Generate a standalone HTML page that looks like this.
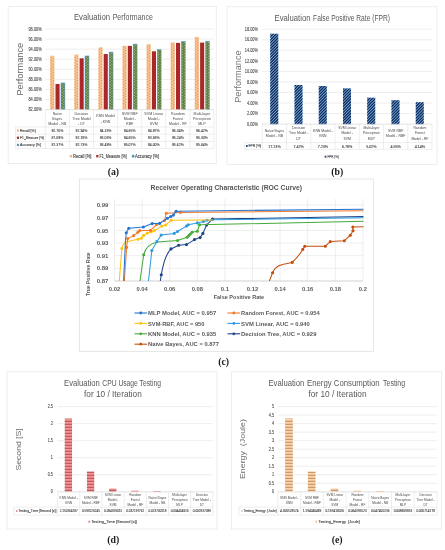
<!DOCTYPE html>
<html lang="en"><head><meta charset="utf-8"><title>Evaluation figures</title>
<style>html,body{margin:0;padding:0;background:#fff}body{width:445px;height:550px;overflow:hidden}svg{display:block;filter:blur(0.3px)}text{white-space:pre}</style>
</head><body>
<svg width="445" height="550" viewBox="0 0 445 550">
<defs>
<pattern id="pd" x="0" y="491.8" width="4" height="3" patternUnits="userSpaceOnUse"><rect width="4" height="3" fill="#f09595"/><rect y="1.0" width="4" height="1.0" fill="#b64c4f"/></pattern>
<pattern id="pe" x="0" y="491.8" width="4" height="3" patternUnits="userSpaceOnUse"><rect width="4" height="3" fill="#f9d3ac"/><rect y="1.0" width="4" height="1.0" fill="#c48a58"/></pattern>
</defs>
<rect x="0.00" y="0.00" width="445.00" height="550.00" fill="#ffffff" stroke="none" stroke-width="0.5" />
<rect x="8.10" y="6.40" width="208.10" height="157.30" fill="#ffffff" stroke="#e2e2e2" stroke-width="0.6" />
<text x="73.90" y="20.40" font-size="9.5" text-anchor="start" fill="#595959" font-family="Liberation Sans, Arial, sans-serif" textLength="36.20" lengthAdjust="spacingAndGlyphs" >Evaluation</text>
<text x="112.70" y="20.40" font-size="8.4" text-anchor="start" fill="#595959" font-family="Liberation Sans, Arial, sans-serif" textLength="40.20" lengthAdjust="spacingAndGlyphs" >Performance</text>
<line x1="45.30" y1="29.00" x2="214.00" y2="29.00" stroke="#dcdcdc" stroke-width="0.5"/>
<text x="41.80" y="30.65" font-size="4.7" text-anchor="end" fill="#444444" font-family="Liberation Sans, Arial, sans-serif" textLength="13.40" lengthAdjust="spacingAndGlyphs" stroke="#444444" stroke-width="0.08" >98.00%</text>
<line x1="45.30" y1="39.08" x2="214.00" y2="39.08" stroke="#dcdcdc" stroke-width="0.5"/>
<text x="41.80" y="40.73" font-size="4.7" text-anchor="end" fill="#444444" font-family="Liberation Sans, Arial, sans-serif" textLength="13.40" lengthAdjust="spacingAndGlyphs" stroke="#444444" stroke-width="0.08" >96.00%</text>
<line x1="45.30" y1="49.15" x2="214.00" y2="49.15" stroke="#dcdcdc" stroke-width="0.5"/>
<text x="41.80" y="50.80" font-size="4.7" text-anchor="end" fill="#444444" font-family="Liberation Sans, Arial, sans-serif" textLength="13.40" lengthAdjust="spacingAndGlyphs" stroke="#444444" stroke-width="0.08" >94.00%</text>
<line x1="45.30" y1="59.22" x2="214.00" y2="59.22" stroke="#dcdcdc" stroke-width="0.5"/>
<text x="41.80" y="60.87" font-size="4.7" text-anchor="end" fill="#444444" font-family="Liberation Sans, Arial, sans-serif" textLength="13.40" lengthAdjust="spacingAndGlyphs" stroke="#444444" stroke-width="0.08" >92.00%</text>
<line x1="45.30" y1="69.30" x2="214.00" y2="69.30" stroke="#dcdcdc" stroke-width="0.5"/>
<text x="41.80" y="70.95" font-size="4.7" text-anchor="end" fill="#444444" font-family="Liberation Sans, Arial, sans-serif" textLength="13.40" lengthAdjust="spacingAndGlyphs" stroke="#444444" stroke-width="0.08" >90.00%</text>
<line x1="45.30" y1="79.38" x2="214.00" y2="79.38" stroke="#dcdcdc" stroke-width="0.5"/>
<text x="41.80" y="81.03" font-size="4.7" text-anchor="end" fill="#444444" font-family="Liberation Sans, Arial, sans-serif" textLength="13.40" lengthAdjust="spacingAndGlyphs" stroke="#444444" stroke-width="0.08" >88.00%</text>
<line x1="45.30" y1="89.45" x2="214.00" y2="89.45" stroke="#dcdcdc" stroke-width="0.5"/>
<text x="41.80" y="91.10" font-size="4.7" text-anchor="end" fill="#444444" font-family="Liberation Sans, Arial, sans-serif" textLength="13.40" lengthAdjust="spacingAndGlyphs" stroke="#444444" stroke-width="0.08" >86.00%</text>
<line x1="45.30" y1="99.52" x2="214.00" y2="99.52" stroke="#dcdcdc" stroke-width="0.5"/>
<text x="41.80" y="101.17" font-size="4.7" text-anchor="end" fill="#444444" font-family="Liberation Sans, Arial, sans-serif" textLength="13.40" lengthAdjust="spacingAndGlyphs" stroke="#444444" stroke-width="0.08" >84.00%</text>
<line x1="45.30" y1="109.60" x2="214.00" y2="109.60" stroke="#dcdcdc" stroke-width="0.5"/>
<text x="41.80" y="111.25" font-size="4.7" text-anchor="end" fill="#444444" font-family="Liberation Sans, Arial, sans-serif" textLength="13.40" lengthAdjust="spacingAndGlyphs" stroke="#444444" stroke-width="0.08" >82.00%</text>
<text x="23.00" y="69.20" font-size="9.1" text-anchor="middle" fill="#666" font-family="Liberation Sans, Arial, sans-serif" textLength="52.70" lengthAdjust="spacingAndGlyphs" transform="rotate(-90 23.00 69.20)" >Performance</text>
<rect x="50.10" y="55.70" width="4.30" height="53.90" fill="#f7c392" stroke="none" stroke-width="0.5" />
<path d="M51.26 108.12l0.68 0.68l-0.68 0.68l-0.68 -0.68zM53.24 106.77l0.68 0.68l-0.68 0.68l-0.68 -0.68zM51.26 105.42l0.68 0.68l-0.68 0.68l-0.68 -0.68zM53.24 104.07l0.68 0.68l-0.68 0.68l-0.68 -0.68zM51.26 102.72l0.68 0.68l-0.68 0.68l-0.68 -0.68zM53.24 101.37l0.68 0.68l-0.68 0.68l-0.68 -0.68zM51.26 100.02l0.68 0.68l-0.68 0.68l-0.68 -0.68zM53.24 98.67l0.68 0.68l-0.68 0.68l-0.68 -0.68zM51.26 97.32l0.68 0.68l-0.68 0.68l-0.68 -0.68zM53.24 95.97l0.68 0.68l-0.68 0.68l-0.68 -0.68zM51.26 94.62l0.68 0.68l-0.68 0.68l-0.68 -0.68zM53.24 93.27l0.68 0.68l-0.68 0.68l-0.68 -0.68zM51.26 91.92l0.68 0.68l-0.68 0.68l-0.68 -0.68zM53.24 90.57l0.68 0.68l-0.68 0.68l-0.68 -0.68zM51.26 89.22l0.68 0.68l-0.68 0.68l-0.68 -0.68zM53.24 87.87l0.68 0.68l-0.68 0.68l-0.68 -0.68zM51.26 86.52l0.68 0.68l-0.68 0.68l-0.68 -0.68zM53.24 85.17l0.68 0.68l-0.68 0.68l-0.68 -0.68zM51.26 83.82l0.68 0.68l-0.68 0.68l-0.68 -0.68zM53.24 82.47l0.68 0.68l-0.68 0.68l-0.68 -0.68zM51.26 81.12l0.68 0.68l-0.68 0.68l-0.68 -0.68zM53.24 79.77l0.68 0.68l-0.68 0.68l-0.68 -0.68zM51.26 78.42l0.68 0.68l-0.68 0.68l-0.68 -0.68zM53.24 77.07l0.68 0.68l-0.68 0.68l-0.68 -0.68zM51.26 75.72l0.68 0.68l-0.68 0.68l-0.68 -0.68zM53.24 74.37l0.68 0.68l-0.68 0.68l-0.68 -0.68zM51.26 73.02l0.68 0.68l-0.68 0.68l-0.68 -0.68zM53.24 71.67l0.68 0.68l-0.68 0.68l-0.68 -0.68zM51.26 70.32l0.68 0.68l-0.68 0.68l-0.68 -0.68zM53.24 68.97l0.68 0.68l-0.68 0.68l-0.68 -0.68zM51.26 67.62l0.68 0.68l-0.68 0.68l-0.68 -0.68zM53.24 66.27l0.68 0.68l-0.68 0.68l-0.68 -0.68zM51.26 64.92l0.68 0.68l-0.68 0.68l-0.68 -0.68zM53.24 63.57l0.68 0.68l-0.68 0.68l-0.68 -0.68zM51.26 62.22l0.68 0.68l-0.68 0.68l-0.68 -0.68zM53.24 60.87l0.68 0.68l-0.68 0.68l-0.68 -0.68zM51.26 59.52l0.68 0.68l-0.68 0.68l-0.68 -0.68zM53.24 58.17l0.68 0.68l-0.68 0.68l-0.68 -0.68zM51.26 56.82l0.68 0.68l-0.68 0.68l-0.68 -0.68z" fill="#cf8f5a"/>
<rect x="55.50" y="83.96" width="4.10" height="25.64" fill="#a9282b" stroke="none" stroke-width="0.5" />
<rect x="60.60" y="82.55" width="4.60" height="27.05" fill="#72b2e6" stroke="none" stroke-width="0.5" />
<rect x="61.20" y="83.35" width="3.40" height="26.25" fill="#5b7d40" stroke="none" stroke-width="0.5" />
<path d="M62.12 108.18l0.62 0.62l-0.62 0.62l-0.62 -0.62zM63.68 106.83l0.62 0.62l-0.62 0.62l-0.62 -0.62zM62.12 105.48l0.62 0.62l-0.62 0.62l-0.62 -0.62zM63.68 104.13l0.62 0.62l-0.62 0.62l-0.62 -0.62zM62.12 102.78l0.62 0.62l-0.62 0.62l-0.62 -0.62zM63.68 101.43l0.62 0.62l-0.62 0.62l-0.62 -0.62zM62.12 100.08l0.62 0.62l-0.62 0.62l-0.62 -0.62zM63.68 98.73l0.62 0.62l-0.62 0.62l-0.62 -0.62zM62.12 97.38l0.62 0.62l-0.62 0.62l-0.62 -0.62zM63.68 96.03l0.62 0.62l-0.62 0.62l-0.62 -0.62zM62.12 94.68l0.62 0.62l-0.62 0.62l-0.62 -0.62zM63.68 93.33l0.62 0.62l-0.62 0.62l-0.62 -0.62zM62.12 91.98l0.62 0.62l-0.62 0.62l-0.62 -0.62zM63.68 90.63l0.62 0.62l-0.62 0.62l-0.62 -0.62zM62.12 89.28l0.62 0.62l-0.62 0.62l-0.62 -0.62zM63.68 87.93l0.62 0.62l-0.62 0.62l-0.62 -0.62zM62.12 86.58l0.62 0.62l-0.62 0.62l-0.62 -0.62zM63.68 85.23l0.62 0.62l-0.62 0.62l-0.62 -0.62zM62.12 83.88l0.62 0.62l-0.62 0.62l-0.62 -0.62z" fill="#c6dbb0"/>
<rect x="74.20" y="54.49" width="4.30" height="55.11" fill="#f7c392" stroke="none" stroke-width="0.5" />
<path d="M75.36 108.12l0.68 0.68l-0.68 0.68l-0.68 -0.68zM77.34 106.77l0.68 0.68l-0.68 0.68l-0.68 -0.68zM75.36 105.42l0.68 0.68l-0.68 0.68l-0.68 -0.68zM77.34 104.07l0.68 0.68l-0.68 0.68l-0.68 -0.68zM75.36 102.72l0.68 0.68l-0.68 0.68l-0.68 -0.68zM77.34 101.37l0.68 0.68l-0.68 0.68l-0.68 -0.68zM75.36 100.02l0.68 0.68l-0.68 0.68l-0.68 -0.68zM77.34 98.67l0.68 0.68l-0.68 0.68l-0.68 -0.68zM75.36 97.32l0.68 0.68l-0.68 0.68l-0.68 -0.68zM77.34 95.97l0.68 0.68l-0.68 0.68l-0.68 -0.68zM75.36 94.62l0.68 0.68l-0.68 0.68l-0.68 -0.68zM77.34 93.27l0.68 0.68l-0.68 0.68l-0.68 -0.68zM75.36 91.92l0.68 0.68l-0.68 0.68l-0.68 -0.68zM77.34 90.57l0.68 0.68l-0.68 0.68l-0.68 -0.68zM75.36 89.22l0.68 0.68l-0.68 0.68l-0.68 -0.68zM77.34 87.87l0.68 0.68l-0.68 0.68l-0.68 -0.68zM75.36 86.52l0.68 0.68l-0.68 0.68l-0.68 -0.68zM77.34 85.17l0.68 0.68l-0.68 0.68l-0.68 -0.68zM75.36 83.82l0.68 0.68l-0.68 0.68l-0.68 -0.68zM77.34 82.47l0.68 0.68l-0.68 0.68l-0.68 -0.68zM75.36 81.12l0.68 0.68l-0.68 0.68l-0.68 -0.68zM77.34 79.77l0.68 0.68l-0.68 0.68l-0.68 -0.68zM75.36 78.42l0.68 0.68l-0.68 0.68l-0.68 -0.68zM77.34 77.07l0.68 0.68l-0.68 0.68l-0.68 -0.68zM75.36 75.72l0.68 0.68l-0.68 0.68l-0.68 -0.68zM77.34 74.37l0.68 0.68l-0.68 0.68l-0.68 -0.68zM75.36 73.02l0.68 0.68l-0.68 0.68l-0.68 -0.68zM77.34 71.67l0.68 0.68l-0.68 0.68l-0.68 -0.68zM75.36 70.32l0.68 0.68l-0.68 0.68l-0.68 -0.68zM77.34 68.97l0.68 0.68l-0.68 0.68l-0.68 -0.68zM75.36 67.62l0.68 0.68l-0.68 0.68l-0.68 -0.68zM77.34 66.27l0.68 0.68l-0.68 0.68l-0.68 -0.68zM75.36 64.92l0.68 0.68l-0.68 0.68l-0.68 -0.68zM77.34 63.57l0.68 0.68l-0.68 0.68l-0.68 -0.68zM75.36 62.22l0.68 0.68l-0.68 0.68l-0.68 -0.68zM77.34 60.87l0.68 0.68l-0.68 0.68l-0.68 -0.68zM75.36 59.52l0.68 0.68l-0.68 0.68l-0.68 -0.68zM77.34 58.17l0.68 0.68l-0.68 0.68l-0.68 -0.68zM75.36 56.82l0.68 0.68l-0.68 0.68l-0.68 -0.68zM77.34 55.47l0.68 0.68l-0.68 0.68l-0.68 -0.68z" fill="#cf8f5a"/>
<rect x="79.60" y="58.32" width="4.10" height="51.28" fill="#a9282b" stroke="none" stroke-width="0.5" />
<rect x="84.70" y="55.55" width="4.60" height="54.05" fill="#72b2e6" stroke="none" stroke-width="0.5" />
<rect x="85.30" y="56.35" width="3.40" height="53.25" fill="#5b7d40" stroke="none" stroke-width="0.5" />
<path d="M86.22 108.18l0.62 0.62l-0.62 0.62l-0.62 -0.62zM87.78 106.83l0.62 0.62l-0.62 0.62l-0.62 -0.62zM86.22 105.48l0.62 0.62l-0.62 0.62l-0.62 -0.62zM87.78 104.13l0.62 0.62l-0.62 0.62l-0.62 -0.62zM86.22 102.78l0.62 0.62l-0.62 0.62l-0.62 -0.62zM87.78 101.43l0.62 0.62l-0.62 0.62l-0.62 -0.62zM86.22 100.08l0.62 0.62l-0.62 0.62l-0.62 -0.62zM87.78 98.73l0.62 0.62l-0.62 0.62l-0.62 -0.62zM86.22 97.38l0.62 0.62l-0.62 0.62l-0.62 -0.62zM87.78 96.03l0.62 0.62l-0.62 0.62l-0.62 -0.62zM86.22 94.68l0.62 0.62l-0.62 0.62l-0.62 -0.62zM87.78 93.33l0.62 0.62l-0.62 0.62l-0.62 -0.62zM86.22 91.98l0.62 0.62l-0.62 0.62l-0.62 -0.62zM87.78 90.63l0.62 0.62l-0.62 0.62l-0.62 -0.62zM86.22 89.28l0.62 0.62l-0.62 0.62l-0.62 -0.62zM87.78 87.93l0.62 0.62l-0.62 0.62l-0.62 -0.62zM86.22 86.58l0.62 0.62l-0.62 0.62l-0.62 -0.62zM87.78 85.23l0.62 0.62l-0.62 0.62l-0.62 -0.62zM86.22 83.88l0.62 0.62l-0.62 0.62l-0.62 -0.62zM87.78 82.53l0.62 0.62l-0.62 0.62l-0.62 -0.62zM86.22 81.18l0.62 0.62l-0.62 0.62l-0.62 -0.62zM87.78 79.83l0.62 0.62l-0.62 0.62l-0.62 -0.62zM86.22 78.48l0.62 0.62l-0.62 0.62l-0.62 -0.62zM87.78 77.13l0.62 0.62l-0.62 0.62l-0.62 -0.62zM86.22 75.78l0.62 0.62l-0.62 0.62l-0.62 -0.62zM87.78 74.43l0.62 0.62l-0.62 0.62l-0.62 -0.62zM86.22 73.08l0.62 0.62l-0.62 0.62l-0.62 -0.62zM87.78 71.73l0.62 0.62l-0.62 0.62l-0.62 -0.62zM86.22 70.38l0.62 0.62l-0.62 0.62l-0.62 -0.62zM87.78 69.03l0.62 0.62l-0.62 0.62l-0.62 -0.62zM86.22 67.68l0.62 0.62l-0.62 0.62l-0.62 -0.62zM87.78 66.33l0.62 0.62l-0.62 0.62l-0.62 -0.62zM86.22 64.98l0.62 0.62l-0.62 0.62l-0.62 -0.62zM87.78 63.63l0.62 0.62l-0.62 0.62l-0.62 -0.62zM86.22 62.28l0.62 0.62l-0.62 0.62l-0.62 -0.62zM87.78 60.93l0.62 0.62l-0.62 0.62l-0.62 -0.62zM86.22 59.58l0.62 0.62l-0.62 0.62l-0.62 -0.62zM87.78 58.23l0.62 0.62l-0.62 0.62l-0.62 -0.62zM86.22 56.88l0.62 0.62l-0.62 0.62l-0.62 -0.62z" fill="#c6dbb0"/>
<rect x="98.30" y="47.49" width="4.30" height="62.11" fill="#f7c392" stroke="none" stroke-width="0.5" />
<path d="M99.46 108.12l0.68 0.68l-0.68 0.68l-0.68 -0.68zM101.44 106.77l0.68 0.68l-0.68 0.68l-0.68 -0.68zM99.46 105.42l0.68 0.68l-0.68 0.68l-0.68 -0.68zM101.44 104.07l0.68 0.68l-0.68 0.68l-0.68 -0.68zM99.46 102.72l0.68 0.68l-0.68 0.68l-0.68 -0.68zM101.44 101.37l0.68 0.68l-0.68 0.68l-0.68 -0.68zM99.46 100.02l0.68 0.68l-0.68 0.68l-0.68 -0.68zM101.44 98.67l0.68 0.68l-0.68 0.68l-0.68 -0.68zM99.46 97.32l0.68 0.68l-0.68 0.68l-0.68 -0.68zM101.44 95.97l0.68 0.68l-0.68 0.68l-0.68 -0.68zM99.46 94.62l0.68 0.68l-0.68 0.68l-0.68 -0.68zM101.44 93.27l0.68 0.68l-0.68 0.68l-0.68 -0.68zM99.46 91.92l0.68 0.68l-0.68 0.68l-0.68 -0.68zM101.44 90.57l0.68 0.68l-0.68 0.68l-0.68 -0.68zM99.46 89.22l0.68 0.68l-0.68 0.68l-0.68 -0.68zM101.44 87.87l0.68 0.68l-0.68 0.68l-0.68 -0.68zM99.46 86.52l0.68 0.68l-0.68 0.68l-0.68 -0.68zM101.44 85.17l0.68 0.68l-0.68 0.68l-0.68 -0.68zM99.46 83.82l0.68 0.68l-0.68 0.68l-0.68 -0.68zM101.44 82.47l0.68 0.68l-0.68 0.68l-0.68 -0.68zM99.46 81.12l0.68 0.68l-0.68 0.68l-0.68 -0.68zM101.44 79.77l0.68 0.68l-0.68 0.68l-0.68 -0.68zM99.46 78.42l0.68 0.68l-0.68 0.68l-0.68 -0.68zM101.44 77.07l0.68 0.68l-0.68 0.68l-0.68 -0.68zM99.46 75.72l0.68 0.68l-0.68 0.68l-0.68 -0.68zM101.44 74.37l0.68 0.68l-0.68 0.68l-0.68 -0.68zM99.46 73.02l0.68 0.68l-0.68 0.68l-0.68 -0.68zM101.44 71.67l0.68 0.68l-0.68 0.68l-0.68 -0.68zM99.46 70.32l0.68 0.68l-0.68 0.68l-0.68 -0.68zM101.44 68.97l0.68 0.68l-0.68 0.68l-0.68 -0.68zM99.46 67.62l0.68 0.68l-0.68 0.68l-0.68 -0.68zM101.44 66.27l0.68 0.68l-0.68 0.68l-0.68 -0.68zM99.46 64.92l0.68 0.68l-0.68 0.68l-0.68 -0.68zM101.44 63.57l0.68 0.68l-0.68 0.68l-0.68 -0.68zM99.46 62.22l0.68 0.68l-0.68 0.68l-0.68 -0.68zM101.44 60.87l0.68 0.68l-0.68 0.68l-0.68 -0.68zM99.46 59.52l0.68 0.68l-0.68 0.68l-0.68 -0.68zM101.44 58.17l0.68 0.68l-0.68 0.68l-0.68 -0.68zM99.46 56.82l0.68 0.68l-0.68 0.68l-0.68 -0.68zM101.44 55.47l0.68 0.68l-0.68 0.68l-0.68 -0.68zM99.46 54.12l0.68 0.68l-0.68 0.68l-0.68 -0.68zM101.44 52.77l0.68 0.68l-0.68 0.68l-0.68 -0.68zM99.46 51.42l0.68 0.68l-0.68 0.68l-0.68 -0.68zM101.44 50.07l0.68 0.68l-0.68 0.68l-0.68 -0.68zM99.46 48.72l0.68 0.68l-0.68 0.68l-0.68 -0.68zM101.44 47.37l0.68 0.68l-0.68 0.68l-0.68 -0.68z" fill="#cf8f5a"/>
<rect x="103.70" y="54.04" width="4.10" height="55.56" fill="#a9282b" stroke="none" stroke-width="0.5" />
<rect x="108.80" y="51.72" width="4.60" height="57.88" fill="#72b2e6" stroke="none" stroke-width="0.5" />
<rect x="109.40" y="52.52" width="3.40" height="57.08" fill="#5b7d40" stroke="none" stroke-width="0.5" />
<path d="M110.32 108.18l0.62 0.62l-0.62 0.62l-0.62 -0.62zM111.88 106.83l0.62 0.62l-0.62 0.62l-0.62 -0.62zM110.32 105.48l0.62 0.62l-0.62 0.62l-0.62 -0.62zM111.88 104.13l0.62 0.62l-0.62 0.62l-0.62 -0.62zM110.32 102.78l0.62 0.62l-0.62 0.62l-0.62 -0.62zM111.88 101.43l0.62 0.62l-0.62 0.62l-0.62 -0.62zM110.32 100.08l0.62 0.62l-0.62 0.62l-0.62 -0.62zM111.88 98.73l0.62 0.62l-0.62 0.62l-0.62 -0.62zM110.32 97.38l0.62 0.62l-0.62 0.62l-0.62 -0.62zM111.88 96.03l0.62 0.62l-0.62 0.62l-0.62 -0.62zM110.32 94.68l0.62 0.62l-0.62 0.62l-0.62 -0.62zM111.88 93.33l0.62 0.62l-0.62 0.62l-0.62 -0.62zM110.32 91.98l0.62 0.62l-0.62 0.62l-0.62 -0.62zM111.88 90.63l0.62 0.62l-0.62 0.62l-0.62 -0.62zM110.32 89.28l0.62 0.62l-0.62 0.62l-0.62 -0.62zM111.88 87.93l0.62 0.62l-0.62 0.62l-0.62 -0.62zM110.32 86.58l0.62 0.62l-0.62 0.62l-0.62 -0.62zM111.88 85.23l0.62 0.62l-0.62 0.62l-0.62 -0.62zM110.32 83.88l0.62 0.62l-0.62 0.62l-0.62 -0.62zM111.88 82.53l0.62 0.62l-0.62 0.62l-0.62 -0.62zM110.32 81.18l0.62 0.62l-0.62 0.62l-0.62 -0.62zM111.88 79.83l0.62 0.62l-0.62 0.62l-0.62 -0.62zM110.32 78.48l0.62 0.62l-0.62 0.62l-0.62 -0.62zM111.88 77.13l0.62 0.62l-0.62 0.62l-0.62 -0.62zM110.32 75.78l0.62 0.62l-0.62 0.62l-0.62 -0.62zM111.88 74.43l0.62 0.62l-0.62 0.62l-0.62 -0.62zM110.32 73.08l0.62 0.62l-0.62 0.62l-0.62 -0.62zM111.88 71.73l0.62 0.62l-0.62 0.62l-0.62 -0.62zM110.32 70.38l0.62 0.62l-0.62 0.62l-0.62 -0.62zM111.88 69.03l0.62 0.62l-0.62 0.62l-0.62 -0.62zM110.32 67.68l0.62 0.62l-0.62 0.62l-0.62 -0.62zM111.88 66.33l0.62 0.62l-0.62 0.62l-0.62 -0.62zM110.32 64.98l0.62 0.62l-0.62 0.62l-0.62 -0.62zM111.88 63.63l0.62 0.62l-0.62 0.62l-0.62 -0.62zM110.32 62.28l0.62 0.62l-0.62 0.62l-0.62 -0.62zM111.88 60.93l0.62 0.62l-0.62 0.62l-0.62 -0.62zM110.32 59.58l0.62 0.62l-0.62 0.62l-0.62 -0.62zM111.88 58.23l0.62 0.62l-0.62 0.62l-0.62 -0.62zM110.32 56.88l0.62 0.62l-0.62 0.62l-0.62 -0.62zM111.88 55.53l0.62 0.62l-0.62 0.62l-0.62 -0.62zM110.32 54.18l0.62 0.62l-0.62 0.62l-0.62 -0.62zM111.88 52.83l0.62 0.62l-0.62 0.62l-0.62 -0.62z" fill="#c6dbb0"/>
<rect x="122.40" y="45.88" width="4.30" height="63.72" fill="#f7c392" stroke="none" stroke-width="0.5" />
<path d="M123.56 108.12l0.68 0.68l-0.68 0.68l-0.68 -0.68zM125.54 106.77l0.68 0.68l-0.68 0.68l-0.68 -0.68zM123.56 105.42l0.68 0.68l-0.68 0.68l-0.68 -0.68zM125.54 104.07l0.68 0.68l-0.68 0.68l-0.68 -0.68zM123.56 102.72l0.68 0.68l-0.68 0.68l-0.68 -0.68zM125.54 101.37l0.68 0.68l-0.68 0.68l-0.68 -0.68zM123.56 100.02l0.68 0.68l-0.68 0.68l-0.68 -0.68zM125.54 98.67l0.68 0.68l-0.68 0.68l-0.68 -0.68zM123.56 97.32l0.68 0.68l-0.68 0.68l-0.68 -0.68zM125.54 95.97l0.68 0.68l-0.68 0.68l-0.68 -0.68zM123.56 94.62l0.68 0.68l-0.68 0.68l-0.68 -0.68zM125.54 93.27l0.68 0.68l-0.68 0.68l-0.68 -0.68zM123.56 91.92l0.68 0.68l-0.68 0.68l-0.68 -0.68zM125.54 90.57l0.68 0.68l-0.68 0.68l-0.68 -0.68zM123.56 89.22l0.68 0.68l-0.68 0.68l-0.68 -0.68zM125.54 87.87l0.68 0.68l-0.68 0.68l-0.68 -0.68zM123.56 86.52l0.68 0.68l-0.68 0.68l-0.68 -0.68zM125.54 85.17l0.68 0.68l-0.68 0.68l-0.68 -0.68zM123.56 83.82l0.68 0.68l-0.68 0.68l-0.68 -0.68zM125.54 82.47l0.68 0.68l-0.68 0.68l-0.68 -0.68zM123.56 81.12l0.68 0.68l-0.68 0.68l-0.68 -0.68zM125.54 79.77l0.68 0.68l-0.68 0.68l-0.68 -0.68zM123.56 78.42l0.68 0.68l-0.68 0.68l-0.68 -0.68zM125.54 77.07l0.68 0.68l-0.68 0.68l-0.68 -0.68zM123.56 75.72l0.68 0.68l-0.68 0.68l-0.68 -0.68zM125.54 74.37l0.68 0.68l-0.68 0.68l-0.68 -0.68zM123.56 73.02l0.68 0.68l-0.68 0.68l-0.68 -0.68zM125.54 71.67l0.68 0.68l-0.68 0.68l-0.68 -0.68zM123.56 70.32l0.68 0.68l-0.68 0.68l-0.68 -0.68zM125.54 68.97l0.68 0.68l-0.68 0.68l-0.68 -0.68zM123.56 67.62l0.68 0.68l-0.68 0.68l-0.68 -0.68zM125.54 66.27l0.68 0.68l-0.68 0.68l-0.68 -0.68zM123.56 64.92l0.68 0.68l-0.68 0.68l-0.68 -0.68zM125.54 63.57l0.68 0.68l-0.68 0.68l-0.68 -0.68zM123.56 62.22l0.68 0.68l-0.68 0.68l-0.68 -0.68zM125.54 60.87l0.68 0.68l-0.68 0.68l-0.68 -0.68zM123.56 59.52l0.68 0.68l-0.68 0.68l-0.68 -0.68zM125.54 58.17l0.68 0.68l-0.68 0.68l-0.68 -0.68zM123.56 56.82l0.68 0.68l-0.68 0.68l-0.68 -0.68zM125.54 55.47l0.68 0.68l-0.68 0.68l-0.68 -0.68zM123.56 54.12l0.68 0.68l-0.68 0.68l-0.68 -0.68zM125.54 52.77l0.68 0.68l-0.68 0.68l-0.68 -0.68zM123.56 51.42l0.68 0.68l-0.68 0.68l-0.68 -0.68zM125.54 50.07l0.68 0.68l-0.68 0.68l-0.68 -0.68zM123.56 48.72l0.68 0.68l-0.68 0.68l-0.68 -0.68zM125.54 47.37l0.68 0.68l-0.68 0.68l-0.68 -0.68zM123.56 46.02l0.68 0.68l-0.68 0.68l-0.68 -0.68z" fill="#cf8f5a"/>
<rect x="127.80" y="45.88" width="4.10" height="63.72" fill="#a9282b" stroke="none" stroke-width="0.5" />
<rect x="132.90" y="43.76" width="4.60" height="65.84" fill="#72b2e6" stroke="none" stroke-width="0.5" />
<rect x="133.50" y="44.56" width="3.40" height="65.04" fill="#5b7d40" stroke="none" stroke-width="0.5" />
<path d="M134.42 108.18l0.62 0.62l-0.62 0.62l-0.62 -0.62zM135.98 106.83l0.62 0.62l-0.62 0.62l-0.62 -0.62zM134.42 105.48l0.62 0.62l-0.62 0.62l-0.62 -0.62zM135.98 104.13l0.62 0.62l-0.62 0.62l-0.62 -0.62zM134.42 102.78l0.62 0.62l-0.62 0.62l-0.62 -0.62zM135.98 101.43l0.62 0.62l-0.62 0.62l-0.62 -0.62zM134.42 100.08l0.62 0.62l-0.62 0.62l-0.62 -0.62zM135.98 98.73l0.62 0.62l-0.62 0.62l-0.62 -0.62zM134.42 97.38l0.62 0.62l-0.62 0.62l-0.62 -0.62zM135.98 96.03l0.62 0.62l-0.62 0.62l-0.62 -0.62zM134.42 94.68l0.62 0.62l-0.62 0.62l-0.62 -0.62zM135.98 93.33l0.62 0.62l-0.62 0.62l-0.62 -0.62zM134.42 91.98l0.62 0.62l-0.62 0.62l-0.62 -0.62zM135.98 90.63l0.62 0.62l-0.62 0.62l-0.62 -0.62zM134.42 89.28l0.62 0.62l-0.62 0.62l-0.62 -0.62zM135.98 87.93l0.62 0.62l-0.62 0.62l-0.62 -0.62zM134.42 86.58l0.62 0.62l-0.62 0.62l-0.62 -0.62zM135.98 85.23l0.62 0.62l-0.62 0.62l-0.62 -0.62zM134.42 83.88l0.62 0.62l-0.62 0.62l-0.62 -0.62zM135.98 82.53l0.62 0.62l-0.62 0.62l-0.62 -0.62zM134.42 81.18l0.62 0.62l-0.62 0.62l-0.62 -0.62zM135.98 79.83l0.62 0.62l-0.62 0.62l-0.62 -0.62zM134.42 78.48l0.62 0.62l-0.62 0.62l-0.62 -0.62zM135.98 77.13l0.62 0.62l-0.62 0.62l-0.62 -0.62zM134.42 75.78l0.62 0.62l-0.62 0.62l-0.62 -0.62zM135.98 74.43l0.62 0.62l-0.62 0.62l-0.62 -0.62zM134.42 73.08l0.62 0.62l-0.62 0.62l-0.62 -0.62zM135.98 71.73l0.62 0.62l-0.62 0.62l-0.62 -0.62zM134.42 70.38l0.62 0.62l-0.62 0.62l-0.62 -0.62zM135.98 69.03l0.62 0.62l-0.62 0.62l-0.62 -0.62zM134.42 67.68l0.62 0.62l-0.62 0.62l-0.62 -0.62zM135.98 66.33l0.62 0.62l-0.62 0.62l-0.62 -0.62zM134.42 64.98l0.62 0.62l-0.62 0.62l-0.62 -0.62zM135.98 63.63l0.62 0.62l-0.62 0.62l-0.62 -0.62zM134.42 62.28l0.62 0.62l-0.62 0.62l-0.62 -0.62zM135.98 60.93l0.62 0.62l-0.62 0.62l-0.62 -0.62zM134.42 59.58l0.62 0.62l-0.62 0.62l-0.62 -0.62zM135.98 58.23l0.62 0.62l-0.62 0.62l-0.62 -0.62zM134.42 56.88l0.62 0.62l-0.62 0.62l-0.62 -0.62zM135.98 55.53l0.62 0.62l-0.62 0.62l-0.62 -0.62zM134.42 54.18l0.62 0.62l-0.62 0.62l-0.62 -0.62zM135.98 52.83l0.62 0.62l-0.62 0.62l-0.62 -0.62zM134.42 51.48l0.62 0.62l-0.62 0.62l-0.62 -0.62zM135.98 50.13l0.62 0.62l-0.62 0.62l-0.62 -0.62zM134.42 48.78l0.62 0.62l-0.62 0.62l-0.62 -0.62zM135.98 47.43l0.62 0.62l-0.62 0.62l-0.62 -0.62zM134.42 46.08l0.62 0.62l-0.62 0.62l-0.62 -0.62zM135.98 44.73l0.62 0.62l-0.62 0.62l-0.62 -0.62z" fill="#c6dbb0"/>
<rect x="146.50" y="44.26" width="4.30" height="65.34" fill="#f7c392" stroke="none" stroke-width="0.5" />
<path d="M147.66 108.12l0.68 0.68l-0.68 0.68l-0.68 -0.68zM149.64 106.77l0.68 0.68l-0.68 0.68l-0.68 -0.68zM147.66 105.42l0.68 0.68l-0.68 0.68l-0.68 -0.68zM149.64 104.07l0.68 0.68l-0.68 0.68l-0.68 -0.68zM147.66 102.72l0.68 0.68l-0.68 0.68l-0.68 -0.68zM149.64 101.37l0.68 0.68l-0.68 0.68l-0.68 -0.68zM147.66 100.02l0.68 0.68l-0.68 0.68l-0.68 -0.68zM149.64 98.67l0.68 0.68l-0.68 0.68l-0.68 -0.68zM147.66 97.32l0.68 0.68l-0.68 0.68l-0.68 -0.68zM149.64 95.97l0.68 0.68l-0.68 0.68l-0.68 -0.68zM147.66 94.62l0.68 0.68l-0.68 0.68l-0.68 -0.68zM149.64 93.27l0.68 0.68l-0.68 0.68l-0.68 -0.68zM147.66 91.92l0.68 0.68l-0.68 0.68l-0.68 -0.68zM149.64 90.57l0.68 0.68l-0.68 0.68l-0.68 -0.68zM147.66 89.22l0.68 0.68l-0.68 0.68l-0.68 -0.68zM149.64 87.87l0.68 0.68l-0.68 0.68l-0.68 -0.68zM147.66 86.52l0.68 0.68l-0.68 0.68l-0.68 -0.68zM149.64 85.17l0.68 0.68l-0.68 0.68l-0.68 -0.68zM147.66 83.82l0.68 0.68l-0.68 0.68l-0.68 -0.68zM149.64 82.47l0.68 0.68l-0.68 0.68l-0.68 -0.68zM147.66 81.12l0.68 0.68l-0.68 0.68l-0.68 -0.68zM149.64 79.77l0.68 0.68l-0.68 0.68l-0.68 -0.68zM147.66 78.42l0.68 0.68l-0.68 0.68l-0.68 -0.68zM149.64 77.07l0.68 0.68l-0.68 0.68l-0.68 -0.68zM147.66 75.72l0.68 0.68l-0.68 0.68l-0.68 -0.68zM149.64 74.37l0.68 0.68l-0.68 0.68l-0.68 -0.68zM147.66 73.02l0.68 0.68l-0.68 0.68l-0.68 -0.68zM149.64 71.67l0.68 0.68l-0.68 0.68l-0.68 -0.68zM147.66 70.32l0.68 0.68l-0.68 0.68l-0.68 -0.68zM149.64 68.97l0.68 0.68l-0.68 0.68l-0.68 -0.68zM147.66 67.62l0.68 0.68l-0.68 0.68l-0.68 -0.68zM149.64 66.27l0.68 0.68l-0.68 0.68l-0.68 -0.68zM147.66 64.92l0.68 0.68l-0.68 0.68l-0.68 -0.68zM149.64 63.57l0.68 0.68l-0.68 0.68l-0.68 -0.68zM147.66 62.22l0.68 0.68l-0.68 0.68l-0.68 -0.68zM149.64 60.87l0.68 0.68l-0.68 0.68l-0.68 -0.68zM147.66 59.52l0.68 0.68l-0.68 0.68l-0.68 -0.68zM149.64 58.17l0.68 0.68l-0.68 0.68l-0.68 -0.68zM147.66 56.82l0.68 0.68l-0.68 0.68l-0.68 -0.68zM149.64 55.47l0.68 0.68l-0.68 0.68l-0.68 -0.68zM147.66 54.12l0.68 0.68l-0.68 0.68l-0.68 -0.68zM149.64 52.77l0.68 0.68l-0.68 0.68l-0.68 -0.68zM147.66 51.42l0.68 0.68l-0.68 0.68l-0.68 -0.68zM149.64 50.07l0.68 0.68l-0.68 0.68l-0.68 -0.68zM147.66 48.72l0.68 0.68l-0.68 0.68l-0.68 -0.68zM149.64 47.37l0.68 0.68l-0.68 0.68l-0.68 -0.68zM147.66 46.02l0.68 0.68l-0.68 0.68l-0.68 -0.68zM149.64 44.67l0.68 0.68l-0.68 0.68l-0.68 -0.68z" fill="#cf8f5a"/>
<rect x="151.90" y="51.27" width="4.10" height="58.33" fill="#a9282b" stroke="none" stroke-width="0.5" />
<rect x="157.00" y="49.15" width="4.60" height="60.45" fill="#72b2e6" stroke="none" stroke-width="0.5" />
<rect x="157.60" y="49.95" width="3.40" height="59.65" fill="#5b7d40" stroke="none" stroke-width="0.5" />
<path d="M158.52 108.18l0.62 0.62l-0.62 0.62l-0.62 -0.62zM160.08 106.83l0.62 0.62l-0.62 0.62l-0.62 -0.62zM158.52 105.48l0.62 0.62l-0.62 0.62l-0.62 -0.62zM160.08 104.13l0.62 0.62l-0.62 0.62l-0.62 -0.62zM158.52 102.78l0.62 0.62l-0.62 0.62l-0.62 -0.62zM160.08 101.43l0.62 0.62l-0.62 0.62l-0.62 -0.62zM158.52 100.08l0.62 0.62l-0.62 0.62l-0.62 -0.62zM160.08 98.73l0.62 0.62l-0.62 0.62l-0.62 -0.62zM158.52 97.38l0.62 0.62l-0.62 0.62l-0.62 -0.62zM160.08 96.03l0.62 0.62l-0.62 0.62l-0.62 -0.62zM158.52 94.68l0.62 0.62l-0.62 0.62l-0.62 -0.62zM160.08 93.33l0.62 0.62l-0.62 0.62l-0.62 -0.62zM158.52 91.98l0.62 0.62l-0.62 0.62l-0.62 -0.62zM160.08 90.63l0.62 0.62l-0.62 0.62l-0.62 -0.62zM158.52 89.28l0.62 0.62l-0.62 0.62l-0.62 -0.62zM160.08 87.93l0.62 0.62l-0.62 0.62l-0.62 -0.62zM158.52 86.58l0.62 0.62l-0.62 0.62l-0.62 -0.62zM160.08 85.23l0.62 0.62l-0.62 0.62l-0.62 -0.62zM158.52 83.88l0.62 0.62l-0.62 0.62l-0.62 -0.62zM160.08 82.53l0.62 0.62l-0.62 0.62l-0.62 -0.62zM158.52 81.18l0.62 0.62l-0.62 0.62l-0.62 -0.62zM160.08 79.83l0.62 0.62l-0.62 0.62l-0.62 -0.62zM158.52 78.48l0.62 0.62l-0.62 0.62l-0.62 -0.62zM160.08 77.13l0.62 0.62l-0.62 0.62l-0.62 -0.62zM158.52 75.78l0.62 0.62l-0.62 0.62l-0.62 -0.62zM160.08 74.43l0.62 0.62l-0.62 0.62l-0.62 -0.62zM158.52 73.08l0.62 0.62l-0.62 0.62l-0.62 -0.62zM160.08 71.73l0.62 0.62l-0.62 0.62l-0.62 -0.62zM158.52 70.38l0.62 0.62l-0.62 0.62l-0.62 -0.62zM160.08 69.03l0.62 0.62l-0.62 0.62l-0.62 -0.62zM158.52 67.68l0.62 0.62l-0.62 0.62l-0.62 -0.62zM160.08 66.33l0.62 0.62l-0.62 0.62l-0.62 -0.62zM158.52 64.98l0.62 0.62l-0.62 0.62l-0.62 -0.62zM160.08 63.63l0.62 0.62l-0.62 0.62l-0.62 -0.62zM158.52 62.28l0.62 0.62l-0.62 0.62l-0.62 -0.62zM160.08 60.93l0.62 0.62l-0.62 0.62l-0.62 -0.62zM158.52 59.58l0.62 0.62l-0.62 0.62l-0.62 -0.62zM160.08 58.23l0.62 0.62l-0.62 0.62l-0.62 -0.62zM158.52 56.88l0.62 0.62l-0.62 0.62l-0.62 -0.62zM160.08 55.53l0.62 0.62l-0.62 0.62l-0.62 -0.62zM158.52 54.18l0.62 0.62l-0.62 0.62l-0.62 -0.62zM160.08 52.83l0.62 0.62l-0.62 0.62l-0.62 -0.62zM158.52 51.48l0.62 0.62l-0.62 0.62l-0.62 -0.62zM160.08 50.13l0.62 0.62l-0.62 0.62l-0.62 -0.62z" fill="#c6dbb0"/>
<rect x="170.60" y="42.40" width="4.30" height="67.20" fill="#f7c392" stroke="none" stroke-width="0.5" />
<path d="M171.76 108.12l0.68 0.68l-0.68 0.68l-0.68 -0.68zM173.74 106.77l0.68 0.68l-0.68 0.68l-0.68 -0.68zM171.76 105.42l0.68 0.68l-0.68 0.68l-0.68 -0.68zM173.74 104.07l0.68 0.68l-0.68 0.68l-0.68 -0.68zM171.76 102.72l0.68 0.68l-0.68 0.68l-0.68 -0.68zM173.74 101.37l0.68 0.68l-0.68 0.68l-0.68 -0.68zM171.76 100.02l0.68 0.68l-0.68 0.68l-0.68 -0.68zM173.74 98.67l0.68 0.68l-0.68 0.68l-0.68 -0.68zM171.76 97.32l0.68 0.68l-0.68 0.68l-0.68 -0.68zM173.74 95.97l0.68 0.68l-0.68 0.68l-0.68 -0.68zM171.76 94.62l0.68 0.68l-0.68 0.68l-0.68 -0.68zM173.74 93.27l0.68 0.68l-0.68 0.68l-0.68 -0.68zM171.76 91.92l0.68 0.68l-0.68 0.68l-0.68 -0.68zM173.74 90.57l0.68 0.68l-0.68 0.68l-0.68 -0.68zM171.76 89.22l0.68 0.68l-0.68 0.68l-0.68 -0.68zM173.74 87.87l0.68 0.68l-0.68 0.68l-0.68 -0.68zM171.76 86.52l0.68 0.68l-0.68 0.68l-0.68 -0.68zM173.74 85.17l0.68 0.68l-0.68 0.68l-0.68 -0.68zM171.76 83.82l0.68 0.68l-0.68 0.68l-0.68 -0.68zM173.74 82.47l0.68 0.68l-0.68 0.68l-0.68 -0.68zM171.76 81.12l0.68 0.68l-0.68 0.68l-0.68 -0.68zM173.74 79.77l0.68 0.68l-0.68 0.68l-0.68 -0.68zM171.76 78.42l0.68 0.68l-0.68 0.68l-0.68 -0.68zM173.74 77.07l0.68 0.68l-0.68 0.68l-0.68 -0.68zM171.76 75.72l0.68 0.68l-0.68 0.68l-0.68 -0.68zM173.74 74.37l0.68 0.68l-0.68 0.68l-0.68 -0.68zM171.76 73.02l0.68 0.68l-0.68 0.68l-0.68 -0.68zM173.74 71.67l0.68 0.68l-0.68 0.68l-0.68 -0.68zM171.76 70.32l0.68 0.68l-0.68 0.68l-0.68 -0.68zM173.74 68.97l0.68 0.68l-0.68 0.68l-0.68 -0.68zM171.76 67.62l0.68 0.68l-0.68 0.68l-0.68 -0.68zM173.74 66.27l0.68 0.68l-0.68 0.68l-0.68 -0.68zM171.76 64.92l0.68 0.68l-0.68 0.68l-0.68 -0.68zM173.74 63.57l0.68 0.68l-0.68 0.68l-0.68 -0.68zM171.76 62.22l0.68 0.68l-0.68 0.68l-0.68 -0.68zM173.74 60.87l0.68 0.68l-0.68 0.68l-0.68 -0.68zM171.76 59.52l0.68 0.68l-0.68 0.68l-0.68 -0.68zM173.74 58.17l0.68 0.68l-0.68 0.68l-0.68 -0.68zM171.76 56.82l0.68 0.68l-0.68 0.68l-0.68 -0.68zM173.74 55.47l0.68 0.68l-0.68 0.68l-0.68 -0.68zM171.76 54.12l0.68 0.68l-0.68 0.68l-0.68 -0.68zM173.74 52.77l0.68 0.68l-0.68 0.68l-0.68 -0.68zM171.76 51.42l0.68 0.68l-0.68 0.68l-0.68 -0.68zM173.74 50.07l0.68 0.68l-0.68 0.68l-0.68 -0.68zM171.76 48.72l0.68 0.68l-0.68 0.68l-0.68 -0.68zM173.74 47.37l0.68 0.68l-0.68 0.68l-0.68 -0.68zM171.76 46.02l0.68 0.68l-0.68 0.68l-0.68 -0.68zM173.74 44.67l0.68 0.68l-0.68 0.68l-0.68 -0.68zM171.76 43.32l0.68 0.68l-0.68 0.68l-0.68 -0.68z" fill="#cf8f5a"/>
<rect x="176.00" y="42.90" width="4.10" height="66.70" fill="#a9282b" stroke="none" stroke-width="0.5" />
<rect x="181.10" y="40.99" width="4.60" height="68.61" fill="#72b2e6" stroke="none" stroke-width="0.5" />
<rect x="181.70" y="41.79" width="3.40" height="67.81" fill="#5b7d40" stroke="none" stroke-width="0.5" />
<path d="M182.62 108.18l0.62 0.62l-0.62 0.62l-0.62 -0.62zM184.18 106.83l0.62 0.62l-0.62 0.62l-0.62 -0.62zM182.62 105.48l0.62 0.62l-0.62 0.62l-0.62 -0.62zM184.18 104.13l0.62 0.62l-0.62 0.62l-0.62 -0.62zM182.62 102.78l0.62 0.62l-0.62 0.62l-0.62 -0.62zM184.18 101.43l0.62 0.62l-0.62 0.62l-0.62 -0.62zM182.62 100.08l0.62 0.62l-0.62 0.62l-0.62 -0.62zM184.18 98.73l0.62 0.62l-0.62 0.62l-0.62 -0.62zM182.62 97.38l0.62 0.62l-0.62 0.62l-0.62 -0.62zM184.18 96.03l0.62 0.62l-0.62 0.62l-0.62 -0.62zM182.62 94.68l0.62 0.62l-0.62 0.62l-0.62 -0.62zM184.18 93.33l0.62 0.62l-0.62 0.62l-0.62 -0.62zM182.62 91.98l0.62 0.62l-0.62 0.62l-0.62 -0.62zM184.18 90.63l0.62 0.62l-0.62 0.62l-0.62 -0.62zM182.62 89.28l0.62 0.62l-0.62 0.62l-0.62 -0.62zM184.18 87.93l0.62 0.62l-0.62 0.62l-0.62 -0.62zM182.62 86.58l0.62 0.62l-0.62 0.62l-0.62 -0.62zM184.18 85.23l0.62 0.62l-0.62 0.62l-0.62 -0.62zM182.62 83.88l0.62 0.62l-0.62 0.62l-0.62 -0.62zM184.18 82.53l0.62 0.62l-0.62 0.62l-0.62 -0.62zM182.62 81.18l0.62 0.62l-0.62 0.62l-0.62 -0.62zM184.18 79.83l0.62 0.62l-0.62 0.62l-0.62 -0.62zM182.62 78.48l0.62 0.62l-0.62 0.62l-0.62 -0.62zM184.18 77.13l0.62 0.62l-0.62 0.62l-0.62 -0.62zM182.62 75.78l0.62 0.62l-0.62 0.62l-0.62 -0.62zM184.18 74.43l0.62 0.62l-0.62 0.62l-0.62 -0.62zM182.62 73.08l0.62 0.62l-0.62 0.62l-0.62 -0.62zM184.18 71.73l0.62 0.62l-0.62 0.62l-0.62 -0.62zM182.62 70.38l0.62 0.62l-0.62 0.62l-0.62 -0.62zM184.18 69.03l0.62 0.62l-0.62 0.62l-0.62 -0.62zM182.62 67.68l0.62 0.62l-0.62 0.62l-0.62 -0.62zM184.18 66.33l0.62 0.62l-0.62 0.62l-0.62 -0.62zM182.62 64.98l0.62 0.62l-0.62 0.62l-0.62 -0.62zM184.18 63.63l0.62 0.62l-0.62 0.62l-0.62 -0.62zM182.62 62.28l0.62 0.62l-0.62 0.62l-0.62 -0.62zM184.18 60.93l0.62 0.62l-0.62 0.62l-0.62 -0.62zM182.62 59.58l0.62 0.62l-0.62 0.62l-0.62 -0.62zM184.18 58.23l0.62 0.62l-0.62 0.62l-0.62 -0.62zM182.62 56.88l0.62 0.62l-0.62 0.62l-0.62 -0.62zM184.18 55.53l0.62 0.62l-0.62 0.62l-0.62 -0.62zM182.62 54.18l0.62 0.62l-0.62 0.62l-0.62 -0.62zM184.18 52.83l0.62 0.62l-0.62 0.62l-0.62 -0.62zM182.62 51.48l0.62 0.62l-0.62 0.62l-0.62 -0.62zM184.18 50.13l0.62 0.62l-0.62 0.62l-0.62 -0.62zM182.62 48.78l0.62 0.62l-0.62 0.62l-0.62 -0.62zM184.18 47.43l0.62 0.62l-0.62 0.62l-0.62 -0.62zM182.62 46.08l0.62 0.62l-0.62 0.62l-0.62 -0.62zM184.18 44.73l0.62 0.62l-0.62 0.62l-0.62 -0.62zM182.62 43.38l0.62 0.62l-0.62 0.62l-0.62 -0.62zM184.18 42.03l0.62 0.62l-0.62 0.62l-0.62 -0.62z" fill="#c6dbb0"/>
<rect x="194.70" y="36.96" width="4.30" height="72.64" fill="#f7c392" stroke="none" stroke-width="0.5" />
<path d="M195.86 108.12l0.68 0.68l-0.68 0.68l-0.68 -0.68zM197.84 106.77l0.68 0.68l-0.68 0.68l-0.68 -0.68zM195.86 105.42l0.68 0.68l-0.68 0.68l-0.68 -0.68zM197.84 104.07l0.68 0.68l-0.68 0.68l-0.68 -0.68zM195.86 102.72l0.68 0.68l-0.68 0.68l-0.68 -0.68zM197.84 101.37l0.68 0.68l-0.68 0.68l-0.68 -0.68zM195.86 100.02l0.68 0.68l-0.68 0.68l-0.68 -0.68zM197.84 98.67l0.68 0.68l-0.68 0.68l-0.68 -0.68zM195.86 97.32l0.68 0.68l-0.68 0.68l-0.68 -0.68zM197.84 95.97l0.68 0.68l-0.68 0.68l-0.68 -0.68zM195.86 94.62l0.68 0.68l-0.68 0.68l-0.68 -0.68zM197.84 93.27l0.68 0.68l-0.68 0.68l-0.68 -0.68zM195.86 91.92l0.68 0.68l-0.68 0.68l-0.68 -0.68zM197.84 90.57l0.68 0.68l-0.68 0.68l-0.68 -0.68zM195.86 89.22l0.68 0.68l-0.68 0.68l-0.68 -0.68zM197.84 87.87l0.68 0.68l-0.68 0.68l-0.68 -0.68zM195.86 86.52l0.68 0.68l-0.68 0.68l-0.68 -0.68zM197.84 85.17l0.68 0.68l-0.68 0.68l-0.68 -0.68zM195.86 83.82l0.68 0.68l-0.68 0.68l-0.68 -0.68zM197.84 82.47l0.68 0.68l-0.68 0.68l-0.68 -0.68zM195.86 81.12l0.68 0.68l-0.68 0.68l-0.68 -0.68zM197.84 79.77l0.68 0.68l-0.68 0.68l-0.68 -0.68zM195.86 78.42l0.68 0.68l-0.68 0.68l-0.68 -0.68zM197.84 77.07l0.68 0.68l-0.68 0.68l-0.68 -0.68zM195.86 75.72l0.68 0.68l-0.68 0.68l-0.68 -0.68zM197.84 74.37l0.68 0.68l-0.68 0.68l-0.68 -0.68zM195.86 73.02l0.68 0.68l-0.68 0.68l-0.68 -0.68zM197.84 71.67l0.68 0.68l-0.68 0.68l-0.68 -0.68zM195.86 70.32l0.68 0.68l-0.68 0.68l-0.68 -0.68zM197.84 68.97l0.68 0.68l-0.68 0.68l-0.68 -0.68zM195.86 67.62l0.68 0.68l-0.68 0.68l-0.68 -0.68zM197.84 66.27l0.68 0.68l-0.68 0.68l-0.68 -0.68zM195.86 64.92l0.68 0.68l-0.68 0.68l-0.68 -0.68zM197.84 63.57l0.68 0.68l-0.68 0.68l-0.68 -0.68zM195.86 62.22l0.68 0.68l-0.68 0.68l-0.68 -0.68zM197.84 60.87l0.68 0.68l-0.68 0.68l-0.68 -0.68zM195.86 59.52l0.68 0.68l-0.68 0.68l-0.68 -0.68zM197.84 58.17l0.68 0.68l-0.68 0.68l-0.68 -0.68zM195.86 56.82l0.68 0.68l-0.68 0.68l-0.68 -0.68zM197.84 55.47l0.68 0.68l-0.68 0.68l-0.68 -0.68zM195.86 54.12l0.68 0.68l-0.68 0.68l-0.68 -0.68zM197.84 52.77l0.68 0.68l-0.68 0.68l-0.68 -0.68zM195.86 51.42l0.68 0.68l-0.68 0.68l-0.68 -0.68zM197.84 50.07l0.68 0.68l-0.68 0.68l-0.68 -0.68zM195.86 48.72l0.68 0.68l-0.68 0.68l-0.68 -0.68zM197.84 47.37l0.68 0.68l-0.68 0.68l-0.68 -0.68zM195.86 46.02l0.68 0.68l-0.68 0.68l-0.68 -0.68zM197.84 44.67l0.68 0.68l-0.68 0.68l-0.68 -0.68zM195.86 43.32l0.68 0.68l-0.68 0.68l-0.68 -0.68zM197.84 41.97l0.68 0.68l-0.68 0.68l-0.68 -0.68zM195.86 40.62l0.68 0.68l-0.68 0.68l-0.68 -0.68zM197.84 39.27l0.68 0.68l-0.68 0.68l-0.68 -0.68zM195.86 37.92l0.68 0.68l-0.68 0.68l-0.68 -0.68z" fill="#cf8f5a"/>
<rect x="200.10" y="42.60" width="4.10" height="67.00" fill="#a9282b" stroke="none" stroke-width="0.5" />
<rect x="205.20" y="40.89" width="4.60" height="68.71" fill="#72b2e6" stroke="none" stroke-width="0.5" />
<rect x="205.80" y="41.69" width="3.40" height="67.91" fill="#5b7d40" stroke="none" stroke-width="0.5" />
<path d="M206.72 108.18l0.62 0.62l-0.62 0.62l-0.62 -0.62zM208.28 106.83l0.62 0.62l-0.62 0.62l-0.62 -0.62zM206.72 105.48l0.62 0.62l-0.62 0.62l-0.62 -0.62zM208.28 104.13l0.62 0.62l-0.62 0.62l-0.62 -0.62zM206.72 102.78l0.62 0.62l-0.62 0.62l-0.62 -0.62zM208.28 101.43l0.62 0.62l-0.62 0.62l-0.62 -0.62zM206.72 100.08l0.62 0.62l-0.62 0.62l-0.62 -0.62zM208.28 98.73l0.62 0.62l-0.62 0.62l-0.62 -0.62zM206.72 97.38l0.62 0.62l-0.62 0.62l-0.62 -0.62zM208.28 96.03l0.62 0.62l-0.62 0.62l-0.62 -0.62zM206.72 94.68l0.62 0.62l-0.62 0.62l-0.62 -0.62zM208.28 93.33l0.62 0.62l-0.62 0.62l-0.62 -0.62zM206.72 91.98l0.62 0.62l-0.62 0.62l-0.62 -0.62zM208.28 90.63l0.62 0.62l-0.62 0.62l-0.62 -0.62zM206.72 89.28l0.62 0.62l-0.62 0.62l-0.62 -0.62zM208.28 87.93l0.62 0.62l-0.62 0.62l-0.62 -0.62zM206.72 86.58l0.62 0.62l-0.62 0.62l-0.62 -0.62zM208.28 85.23l0.62 0.62l-0.62 0.62l-0.62 -0.62zM206.72 83.88l0.62 0.62l-0.62 0.62l-0.62 -0.62zM208.28 82.53l0.62 0.62l-0.62 0.62l-0.62 -0.62zM206.72 81.18l0.62 0.62l-0.62 0.62l-0.62 -0.62zM208.28 79.83l0.62 0.62l-0.62 0.62l-0.62 -0.62zM206.72 78.48l0.62 0.62l-0.62 0.62l-0.62 -0.62zM208.28 77.13l0.62 0.62l-0.62 0.62l-0.62 -0.62zM206.72 75.78l0.62 0.62l-0.62 0.62l-0.62 -0.62zM208.28 74.43l0.62 0.62l-0.62 0.62l-0.62 -0.62zM206.72 73.08l0.62 0.62l-0.62 0.62l-0.62 -0.62zM208.28 71.73l0.62 0.62l-0.62 0.62l-0.62 -0.62zM206.72 70.38l0.62 0.62l-0.62 0.62l-0.62 -0.62zM208.28 69.03l0.62 0.62l-0.62 0.62l-0.62 -0.62zM206.72 67.68l0.62 0.62l-0.62 0.62l-0.62 -0.62zM208.28 66.33l0.62 0.62l-0.62 0.62l-0.62 -0.62zM206.72 64.98l0.62 0.62l-0.62 0.62l-0.62 -0.62zM208.28 63.63l0.62 0.62l-0.62 0.62l-0.62 -0.62zM206.72 62.28l0.62 0.62l-0.62 0.62l-0.62 -0.62zM208.28 60.93l0.62 0.62l-0.62 0.62l-0.62 -0.62zM206.72 59.58l0.62 0.62l-0.62 0.62l-0.62 -0.62zM208.28 58.23l0.62 0.62l-0.62 0.62l-0.62 -0.62zM206.72 56.88l0.62 0.62l-0.62 0.62l-0.62 -0.62zM208.28 55.53l0.62 0.62l-0.62 0.62l-0.62 -0.62zM206.72 54.18l0.62 0.62l-0.62 0.62l-0.62 -0.62zM208.28 52.83l0.62 0.62l-0.62 0.62l-0.62 -0.62zM206.72 51.48l0.62 0.62l-0.62 0.62l-0.62 -0.62zM208.28 50.13l0.62 0.62l-0.62 0.62l-0.62 -0.62zM206.72 48.78l0.62 0.62l-0.62 0.62l-0.62 -0.62zM208.28 47.43l0.62 0.62l-0.62 0.62l-0.62 -0.62zM206.72 46.08l0.62 0.62l-0.62 0.62l-0.62 -0.62zM208.28 44.73l0.62 0.62l-0.62 0.62l-0.62 -0.62zM206.72 43.38l0.62 0.62l-0.62 0.62l-0.62 -0.62zM208.28 42.03l0.62 0.62l-0.62 0.62l-0.62 -0.62z" fill="#c6dbb0"/>
<line x1="15.60" y1="126.90" x2="214.00" y2="126.90" stroke="#dcdcdc" stroke-width="0.5"/>
<line x1="15.60" y1="134.20" x2="214.00" y2="134.20" stroke="#dcdcdc" stroke-width="0.5"/>
<line x1="15.60" y1="141.40" x2="214.00" y2="141.40" stroke="#dcdcdc" stroke-width="0.5"/>
<line x1="15.60" y1="148.50" x2="214.00" y2="148.50" stroke="#dcdcdc" stroke-width="0.5"/>
<line x1="45.30" y1="109.60" x2="214.00" y2="109.60" stroke="#dcdcdc" stroke-width="0.5"/>
<line x1="45.30" y1="109.60" x2="45.30" y2="148.50" stroke="#dcdcdc" stroke-width="0.5"/>
<line x1="69.40" y1="109.60" x2="69.40" y2="148.50" stroke="#dcdcdc" stroke-width="0.5"/>
<line x1="93.50" y1="109.60" x2="93.50" y2="148.50" stroke="#dcdcdc" stroke-width="0.5"/>
<line x1="117.60" y1="109.60" x2="117.60" y2="148.50" stroke="#dcdcdc" stroke-width="0.5"/>
<line x1="141.70" y1="109.60" x2="141.70" y2="148.50" stroke="#dcdcdc" stroke-width="0.5"/>
<line x1="165.80" y1="109.60" x2="165.80" y2="148.50" stroke="#dcdcdc" stroke-width="0.5"/>
<line x1="189.90" y1="109.60" x2="189.90" y2="148.50" stroke="#dcdcdc" stroke-width="0.5"/>
<line x1="214.00" y1="109.60" x2="214.00" y2="148.50" stroke="#dcdcdc" stroke-width="0.5"/>
<line x1="15.60" y1="126.90" x2="15.60" y2="148.50" stroke="#dcdcdc" stroke-width="0.5"/>
<text transform="translate(57.35 114.60) scale(0.84 1)" font-size="4.3" text-anchor="middle" fill="#484848" font-family="Liberation Sans, Arial, sans-serif" >Naïve</text>
<text transform="translate(57.35 120.00) scale(0.84 1)" font-size="4.3" text-anchor="middle" fill="#484848" font-family="Liberation Sans, Arial, sans-serif" >Bayes</text>
<text transform="translate(57.35 125.40) scale(0.84 1)" font-size="4.3" text-anchor="middle" fill="#484848" font-family="Liberation Sans, Arial, sans-serif" >Model - NB</text>
<text transform="translate(81.45 114.60) scale(0.84 1)" font-size="4.3" text-anchor="middle" fill="#484848" font-family="Liberation Sans, Arial, sans-serif" >Decision</text>
<text transform="translate(81.45 120.00) scale(0.84 1)" font-size="4.3" text-anchor="middle" fill="#484848" font-family="Liberation Sans, Arial, sans-serif" >Tree Model</text>
<text transform="translate(81.45 125.40) scale(0.84 1)" font-size="4.3" text-anchor="middle" fill="#484848" font-family="Liberation Sans, Arial, sans-serif" >- DT</text>
<text transform="translate(105.55 117.30) scale(0.84 1)" font-size="4.3" text-anchor="middle" fill="#484848" font-family="Liberation Sans, Arial, sans-serif" >KNN Model</text>
<text transform="translate(105.55 122.70) scale(0.84 1)" font-size="4.3" text-anchor="middle" fill="#484848" font-family="Liberation Sans, Arial, sans-serif" >- KNN</text>
<text transform="translate(129.65 114.60) scale(0.84 1)" font-size="4.3" text-anchor="middle" fill="#484848" font-family="Liberation Sans, Arial, sans-serif" >SVM RBF</text>
<text transform="translate(129.65 120.00) scale(0.84 1)" font-size="4.3" text-anchor="middle" fill="#484848" font-family="Liberation Sans, Arial, sans-serif" >Model -</text>
<text transform="translate(129.65 125.40) scale(0.84 1)" font-size="4.3" text-anchor="middle" fill="#484848" font-family="Liberation Sans, Arial, sans-serif" >RBF</text>
<text transform="translate(153.75 114.60) scale(0.84 1)" font-size="4.3" text-anchor="middle" fill="#484848" font-family="Liberation Sans, Arial, sans-serif" >SVM Linear</text>
<text transform="translate(153.75 120.00) scale(0.84 1)" font-size="4.3" text-anchor="middle" fill="#484848" font-family="Liberation Sans, Arial, sans-serif" >Model -</text>
<text transform="translate(153.75 125.40) scale(0.84 1)" font-size="4.3" text-anchor="middle" fill="#484848" font-family="Liberation Sans, Arial, sans-serif" >SVM</text>
<text transform="translate(177.85 114.60) scale(0.84 1)" font-size="4.3" text-anchor="middle" fill="#484848" font-family="Liberation Sans, Arial, sans-serif" >Random</text>
<text transform="translate(177.85 120.00) scale(0.84 1)" font-size="4.3" text-anchor="middle" fill="#484848" font-family="Liberation Sans, Arial, sans-serif" >Forest</text>
<text transform="translate(177.85 125.40) scale(0.84 1)" font-size="4.3" text-anchor="middle" fill="#484848" font-family="Liberation Sans, Arial, sans-serif" >Model - RF</text>
<text transform="translate(201.95 114.60) scale(0.84 1)" font-size="4.3" text-anchor="middle" fill="#484848" font-family="Liberation Sans, Arial, sans-serif" >Multi-layer</text>
<text transform="translate(201.95 120.00) scale(0.84 1)" font-size="4.3" text-anchor="middle" fill="#484848" font-family="Liberation Sans, Arial, sans-serif" >Perceptron</text>
<text transform="translate(201.95 125.40) scale(0.84 1)" font-size="4.3" text-anchor="middle" fill="#484848" font-family="Liberation Sans, Arial, sans-serif" >MLP</text>
<rect x="16.90" y="129.35" width="2.00" height="2.40" fill="#f3b183" stroke="none" stroke-width="0.5" />
<text x="20.10" y="132.05" font-size="4.4" text-anchor="start" fill="#303030" font-family="Liberation Sans, Arial, sans-serif" textLength="15.50" lengthAdjust="spacingAndGlyphs" stroke="#303030" stroke-width="0.08" >Recall [%]</text>
<text x="57.35" y="132.05" font-size="4.4" text-anchor="middle" fill="#303030" font-family="Liberation Sans, Arial, sans-serif" textLength="11.80" lengthAdjust="spacingAndGlyphs" stroke="#303030" stroke-width="0.08" >92.70%</text>
<text x="81.45" y="132.05" font-size="4.4" text-anchor="middle" fill="#303030" font-family="Liberation Sans, Arial, sans-serif" textLength="11.80" lengthAdjust="spacingAndGlyphs" stroke="#303030" stroke-width="0.08" >92.94%</text>
<text x="105.55" y="132.05" font-size="4.4" text-anchor="middle" fill="#303030" font-family="Liberation Sans, Arial, sans-serif" textLength="11.80" lengthAdjust="spacingAndGlyphs" stroke="#303030" stroke-width="0.08" >94.33%</text>
<text x="129.65" y="132.05" font-size="4.4" text-anchor="middle" fill="#303030" font-family="Liberation Sans, Arial, sans-serif" textLength="11.80" lengthAdjust="spacingAndGlyphs" stroke="#303030" stroke-width="0.08" >94.65%</text>
<text x="153.75" y="132.05" font-size="4.4" text-anchor="middle" fill="#303030" font-family="Liberation Sans, Arial, sans-serif" textLength="11.80" lengthAdjust="spacingAndGlyphs" stroke="#303030" stroke-width="0.08" >94.97%</text>
<text x="177.85" y="132.05" font-size="4.4" text-anchor="middle" fill="#303030" font-family="Liberation Sans, Arial, sans-serif" textLength="11.80" lengthAdjust="spacingAndGlyphs" stroke="#303030" stroke-width="0.08" >95.34%</text>
<text x="201.95" y="132.05" font-size="4.4" text-anchor="middle" fill="#303030" font-family="Liberation Sans, Arial, sans-serif" textLength="11.80" lengthAdjust="spacingAndGlyphs" stroke="#303030" stroke-width="0.08" >96.42%</text>
<rect x="16.90" y="136.60" width="2.00" height="2.40" fill="#ae2a2c" stroke="none" stroke-width="0.5" />
<text x="20.10" y="139.30" font-size="4.4" text-anchor="start" fill="#303030" font-family="Liberation Sans, Arial, sans-serif" textLength="23.90" lengthAdjust="spacingAndGlyphs" stroke="#303030" stroke-width="0.08" >F1_Measure [%]</text>
<text x="57.35" y="139.30" font-size="4.4" text-anchor="middle" fill="#303030" font-family="Liberation Sans, Arial, sans-serif" textLength="11.80" lengthAdjust="spacingAndGlyphs" stroke="#303030" stroke-width="0.08" >87.09%</text>
<text x="81.45" y="139.30" font-size="4.4" text-anchor="middle" fill="#303030" font-family="Liberation Sans, Arial, sans-serif" textLength="11.80" lengthAdjust="spacingAndGlyphs" stroke="#303030" stroke-width="0.08" >92.18%</text>
<text x="105.55" y="139.30" font-size="4.4" text-anchor="middle" fill="#303030" font-family="Liberation Sans, Arial, sans-serif" textLength="11.80" lengthAdjust="spacingAndGlyphs" stroke="#303030" stroke-width="0.08" >93.03%</text>
<text x="129.65" y="139.30" font-size="4.4" text-anchor="middle" fill="#303030" font-family="Liberation Sans, Arial, sans-serif" textLength="11.80" lengthAdjust="spacingAndGlyphs" stroke="#303030" stroke-width="0.08" >94.65%</text>
<text x="153.75" y="139.30" font-size="4.4" text-anchor="middle" fill="#303030" font-family="Liberation Sans, Arial, sans-serif" textLength="11.80" lengthAdjust="spacingAndGlyphs" stroke="#303030" stroke-width="0.08" >93.58%</text>
<text x="177.85" y="139.30" font-size="4.4" text-anchor="middle" fill="#303030" font-family="Liberation Sans, Arial, sans-serif" textLength="11.80" lengthAdjust="spacingAndGlyphs" stroke="#303030" stroke-width="0.08" >95.24%</text>
<text x="201.95" y="139.30" font-size="4.4" text-anchor="middle" fill="#303030" font-family="Liberation Sans, Arial, sans-serif" textLength="11.80" lengthAdjust="spacingAndGlyphs" stroke="#303030" stroke-width="0.08" >95.30%</text>
<rect x="16.90" y="143.75" width="2.00" height="2.40" fill="#5fa3d6" stroke="none" stroke-width="0.5" />
<rect x="17.40" y="144.35" width="1.00" height="1.50" fill="#5b7d40" stroke="none" stroke-width="0.5" />
<text x="20.10" y="146.45" font-size="4.4" text-anchor="start" fill="#303030" font-family="Liberation Sans, Arial, sans-serif" textLength="20.90" lengthAdjust="spacingAndGlyphs" stroke="#303030" stroke-width="0.08" >Accuracy [%]</text>
<text x="57.35" y="146.45" font-size="4.4" text-anchor="middle" fill="#303030" font-family="Liberation Sans, Arial, sans-serif" textLength="11.80" lengthAdjust="spacingAndGlyphs" stroke="#303030" stroke-width="0.08" >87.37%</text>
<text x="81.45" y="146.45" font-size="4.4" text-anchor="middle" fill="#303030" font-family="Liberation Sans, Arial, sans-serif" textLength="11.80" lengthAdjust="spacingAndGlyphs" stroke="#303030" stroke-width="0.08" >92.73%</text>
<text x="105.55" y="146.45" font-size="4.4" text-anchor="middle" fill="#303030" font-family="Liberation Sans, Arial, sans-serif" textLength="11.80" lengthAdjust="spacingAndGlyphs" stroke="#303030" stroke-width="0.08" >93.49%</text>
<text x="129.65" y="146.45" font-size="4.4" text-anchor="middle" fill="#303030" font-family="Liberation Sans, Arial, sans-serif" textLength="11.80" lengthAdjust="spacingAndGlyphs" stroke="#303030" stroke-width="0.08" >95.07%</text>
<text x="153.75" y="146.45" font-size="4.4" text-anchor="middle" fill="#303030" font-family="Liberation Sans, Arial, sans-serif" textLength="11.80" lengthAdjust="spacingAndGlyphs" stroke="#303030" stroke-width="0.08" >94.00%</text>
<text x="177.85" y="146.45" font-size="4.4" text-anchor="middle" fill="#303030" font-family="Liberation Sans, Arial, sans-serif" textLength="11.80" lengthAdjust="spacingAndGlyphs" stroke="#303030" stroke-width="0.08" >95.62%</text>
<text x="201.95" y="146.45" font-size="4.4" text-anchor="middle" fill="#303030" font-family="Liberation Sans, Arial, sans-serif" textLength="11.80" lengthAdjust="spacingAndGlyphs" stroke="#303030" stroke-width="0.08" >95.64%</text>
<rect x="69.80" y="155.00" width="2.20" height="2.40" fill="#f3b183" stroke="none" stroke-width="0.5" />
<text x="73.00" y="157.90" font-size="4.8" text-anchor="start" fill="#303030" font-family="Liberation Sans, Arial, sans-serif" textLength="18.50" lengthAdjust="spacingAndGlyphs" stroke="#303030" stroke-width="0.08" >Recall [%]</text>
<rect x="96.20" y="155.00" width="2.20" height="2.40" fill="#ae2a2c" stroke="none" stroke-width="0.5" />
<text x="99.40" y="157.90" font-size="4.8" text-anchor="start" fill="#303030" font-family="Liberation Sans, Arial, sans-serif" textLength="27.50" lengthAdjust="spacingAndGlyphs" stroke="#303030" stroke-width="0.08" >F1_Measure [%]</text>
<rect x="131.90" y="154.90" width="2.50" height="2.60" fill="#5fa3d6" stroke="none" stroke-width="0.5" />
<rect x="132.50" y="155.50" width="1.30" height="1.50" fill="#5b7d40" stroke="none" stroke-width="0.5" />
<text x="135.00" y="157.90" font-size="4.8" text-anchor="start" fill="#303030" font-family="Liberation Sans, Arial, sans-serif" textLength="24.00" lengthAdjust="spacingAndGlyphs" stroke="#303030" stroke-width="0.08" >Accuracy [%]</text>
<text x="113.40" y="174.80" font-size="9.8" text-anchor="middle" fill="#1a1a1a" font-family="Liberation Serif, Times New Roman, serif" font-weight="bold" >(a)</text>
<rect x="227.00" y="6.80" width="210.00" height="157.50" fill="#ffffff" stroke="#e2e2e2" stroke-width="0.6" />
<text x="274.50" y="20.70" font-size="9.4" text-anchor="start" fill="#595959" font-family="Liberation Sans, Arial, sans-serif" textLength="36.00" lengthAdjust="spacingAndGlyphs" >Evaluation</text>
<text x="313.10" y="20.70" font-size="8.3" text-anchor="start" fill="#595959" font-family="Liberation Sans, Arial, sans-serif" textLength="76.80" lengthAdjust="spacingAndGlyphs" >False Positive Rate (FPR)</text>
<line x1="262.30" y1="29.20" x2="432.00" y2="29.20" stroke="#dcdcdc" stroke-width="0.5"/>
<text transform="translate(257.90 30.85) scale(0.83 1)" font-size="4.7" text-anchor="end" fill="#444444" font-family="Liberation Sans, Arial, sans-serif" stroke="#444444" stroke-width="0.08" >18.00%</text>
<line x1="262.30" y1="39.76" x2="432.00" y2="39.76" stroke="#dcdcdc" stroke-width="0.5"/>
<text transform="translate(257.90 41.41) scale(0.83 1)" font-size="4.7" text-anchor="end" fill="#444444" font-family="Liberation Sans, Arial, sans-serif" stroke="#444444" stroke-width="0.08" >16.00%</text>
<line x1="262.30" y1="50.31" x2="432.00" y2="50.31" stroke="#dcdcdc" stroke-width="0.5"/>
<text transform="translate(257.90 51.96) scale(0.83 1)" font-size="4.7" text-anchor="end" fill="#444444" font-family="Liberation Sans, Arial, sans-serif" stroke="#444444" stroke-width="0.08" >14.00%</text>
<line x1="262.30" y1="60.87" x2="432.00" y2="60.87" stroke="#dcdcdc" stroke-width="0.5"/>
<text transform="translate(257.90 62.52) scale(0.83 1)" font-size="4.7" text-anchor="end" fill="#444444" font-family="Liberation Sans, Arial, sans-serif" stroke="#444444" stroke-width="0.08" >12.00%</text>
<line x1="262.30" y1="71.42" x2="432.00" y2="71.42" stroke="#dcdcdc" stroke-width="0.5"/>
<text transform="translate(257.90 73.07) scale(0.83 1)" font-size="4.7" text-anchor="end" fill="#444444" font-family="Liberation Sans, Arial, sans-serif" stroke="#444444" stroke-width="0.08" >10.00%</text>
<line x1="262.30" y1="81.98" x2="432.00" y2="81.98" stroke="#dcdcdc" stroke-width="0.5"/>
<text transform="translate(257.90 83.63) scale(0.83 1)" font-size="4.7" text-anchor="end" fill="#444444" font-family="Liberation Sans, Arial, sans-serif" stroke="#444444" stroke-width="0.08" >8.00%</text>
<line x1="262.30" y1="92.53" x2="432.00" y2="92.53" stroke="#dcdcdc" stroke-width="0.5"/>
<text transform="translate(257.90 94.18) scale(0.83 1)" font-size="4.7" text-anchor="end" fill="#444444" font-family="Liberation Sans, Arial, sans-serif" stroke="#444444" stroke-width="0.08" >6.00%</text>
<line x1="262.30" y1="103.09" x2="432.00" y2="103.09" stroke="#dcdcdc" stroke-width="0.5"/>
<text transform="translate(257.90 104.74) scale(0.83 1)" font-size="4.7" text-anchor="end" fill="#444444" font-family="Liberation Sans, Arial, sans-serif" stroke="#444444" stroke-width="0.08" >4.00%</text>
<line x1="262.30" y1="113.64" x2="432.00" y2="113.64" stroke="#dcdcdc" stroke-width="0.5"/>
<text transform="translate(257.90 115.29) scale(0.83 1)" font-size="4.7" text-anchor="end" fill="#444444" font-family="Liberation Sans, Arial, sans-serif" stroke="#444444" stroke-width="0.08" >2.00%</text>
<line x1="262.30" y1="124.20" x2="432.00" y2="124.20" stroke="#dcdcdc" stroke-width="0.5"/>
<text transform="translate(257.90 125.85) scale(0.83 1)" font-size="4.7" text-anchor="end" fill="#444444" font-family="Liberation Sans, Arial, sans-serif" stroke="#444444" stroke-width="0.08" >0.00%</text>
<text x="241.30" y="76.60" font-size="8.2" text-anchor="middle" fill="#777" font-family="Liberation Sans, Arial, sans-serif" textLength="52.40" lengthAdjust="spacingAndGlyphs" transform="rotate(-90 241.30 76.60)" >Performance</text>
<rect x="270.27" y="33.79" width="8.00" height="90.41" fill="#74b4f0" stroke="none" stroke-width="0.5" />
<clipPath id="cb0"><rect x="270.27" y="33.79" width="8.00" height="90.41"/></clipPath>
<path d="M269.77 133.30L278.77 124.30M269.77 130.40L278.77 121.40M269.77 127.50L278.77 118.50M269.77 124.60L278.77 115.60M269.77 121.70L278.77 112.70M269.77 118.80L278.77 109.80M269.77 115.90L278.77 106.90M269.77 113.00L278.77 104.00M269.77 110.10L278.77 101.10M269.77 107.20L278.77 98.20M269.77 104.30L278.77 95.30M269.77 101.40L278.77 92.40M269.77 98.50L278.77 89.50M269.77 95.60L278.77 86.60M269.77 92.70L278.77 83.70M269.77 89.80L278.77 80.80M269.77 86.90L278.77 77.90M269.77 84.00L278.77 75.00M269.77 81.10L278.77 72.10M269.77 78.20L278.77 69.20M269.77 75.30L278.77 66.30M269.77 72.40L278.77 63.40M269.77 69.50L278.77 60.50M269.77 66.60L278.77 57.60M269.77 63.70L278.77 54.70M269.77 60.80L278.77 51.80M269.77 57.90L278.77 48.90M269.77 55.00L278.77 46.00M269.77 52.10L278.77 43.10M269.77 49.20L278.77 40.20M269.77 46.30L278.77 37.30M269.77 43.40L278.77 34.40M269.77 40.50L278.77 31.50M269.77 37.60L278.77 28.60M269.77 34.70L278.77 25.70" stroke="#13224a" stroke-width="1.22" fill="none" clip-path="url(#cb0)"/>
<rect x="294.51" y="85.04" width="8.00" height="39.16" fill="#74b4f0" stroke="none" stroke-width="0.5" />
<clipPath id="cb1"><rect x="294.51" y="85.04" width="8.00" height="39.16"/></clipPath>
<path d="M294.01 133.30L303.01 124.30M294.01 130.40L303.01 121.40M294.01 127.50L303.01 118.50M294.01 124.60L303.01 115.60M294.01 121.70L303.01 112.70M294.01 118.80L303.01 109.80M294.01 115.90L303.01 106.90M294.01 113.00L303.01 104.00M294.01 110.10L303.01 101.10M294.01 107.20L303.01 98.20M294.01 104.30L303.01 95.30M294.01 101.40L303.01 92.40M294.01 98.50L303.01 89.50M294.01 95.60L303.01 86.60M294.01 92.70L303.01 83.70M294.01 89.80L303.01 80.80M294.01 86.90L303.01 77.90" stroke="#13224a" stroke-width="1.22" fill="none" clip-path="url(#cb1)"/>
<rect x="318.76" y="86.04" width="8.00" height="38.16" fill="#74b4f0" stroke="none" stroke-width="0.5" />
<clipPath id="cb2"><rect x="318.76" y="86.04" width="8.00" height="38.16"/></clipPath>
<path d="M318.26 133.30L327.26 124.30M318.26 130.40L327.26 121.40M318.26 127.50L327.26 118.50M318.26 124.60L327.26 115.60M318.26 121.70L327.26 112.70M318.26 118.80L327.26 109.80M318.26 115.90L327.26 106.90M318.26 113.00L327.26 104.00M318.26 110.10L327.26 101.10M318.26 107.20L327.26 98.20M318.26 104.30L327.26 95.30M318.26 101.40L327.26 92.40M318.26 98.50L327.26 89.50M318.26 95.60L327.26 86.60M318.26 92.70L327.26 83.70M318.26 89.80L327.26 80.80M318.26 86.90L327.26 77.90" stroke="#13224a" stroke-width="1.22" fill="none" clip-path="url(#cb2)"/>
<rect x="343.00" y="88.42" width="8.00" height="35.78" fill="#74b4f0" stroke="none" stroke-width="0.5" />
<clipPath id="cb3"><rect x="343.00" y="88.42" width="8.00" height="35.78"/></clipPath>
<path d="M342.50 133.30L351.50 124.30M342.50 130.40L351.50 121.40M342.50 127.50L351.50 118.50M342.50 124.60L351.50 115.60M342.50 121.70L351.50 112.70M342.50 118.80L351.50 109.80M342.50 115.90L351.50 106.90M342.50 113.00L351.50 104.00M342.50 110.10L351.50 101.10M342.50 107.20L351.50 98.20M342.50 104.30L351.50 95.30M342.50 101.40L351.50 92.40M342.50 98.50L351.50 89.50M342.50 95.60L351.50 86.60M342.50 92.70L351.50 83.70M342.50 89.80L351.50 80.80" stroke="#13224a" stroke-width="1.22" fill="none" clip-path="url(#cb3)"/>
<rect x="367.24" y="97.71" width="8.00" height="26.49" fill="#74b4f0" stroke="none" stroke-width="0.5" />
<clipPath id="cb4"><rect x="367.24" y="97.71" width="8.00" height="26.49"/></clipPath>
<path d="M366.74 133.30L375.74 124.30M366.74 130.40L375.74 121.40M366.74 127.50L375.74 118.50M366.74 124.60L375.74 115.60M366.74 121.70L375.74 112.70M366.74 118.80L375.74 109.80M366.74 115.90L375.74 106.90M366.74 113.00L375.74 104.00M366.74 110.10L375.74 101.10M366.74 107.20L375.74 98.20M366.74 104.30L375.74 95.30M366.74 101.40L375.74 92.40M366.74 98.50L375.74 89.50" stroke="#13224a" stroke-width="1.22" fill="none" clip-path="url(#cb4)"/>
<rect x="391.49" y="100.19" width="8.00" height="24.01" fill="#74b4f0" stroke="none" stroke-width="0.5" />
<clipPath id="cb5"><rect x="391.49" y="100.19" width="8.00" height="24.01"/></clipPath>
<path d="M390.99 133.30L399.99 124.30M390.99 130.40L399.99 121.40M390.99 127.50L399.99 118.50M390.99 124.60L399.99 115.60M390.99 121.70L399.99 112.70M390.99 118.80L399.99 109.80M390.99 115.90L399.99 106.90M390.99 113.00L399.99 104.00M390.99 110.10L399.99 101.10M390.99 107.20L399.99 98.20M390.99 104.30L399.99 95.30M390.99 101.40L399.99 92.40" stroke="#13224a" stroke-width="1.22" fill="none" clip-path="url(#cb5)"/>
<rect x="415.73" y="102.35" width="8.00" height="21.85" fill="#74b4f0" stroke="none" stroke-width="0.5" />
<clipPath id="cb6"><rect x="415.73" y="102.35" width="8.00" height="21.85"/></clipPath>
<path d="M415.23 133.30L424.23 124.30M415.23 130.40L424.23 121.40M415.23 127.50L424.23 118.50M415.23 124.60L424.23 115.60M415.23 121.70L424.23 112.70M415.23 118.80L424.23 109.80M415.23 115.90L424.23 106.90M415.23 113.00L424.23 104.00M415.23 110.10L424.23 101.10M415.23 107.20L424.23 98.20M415.23 104.30L424.23 95.30" stroke="#13224a" stroke-width="1.22" fill="none" clip-path="url(#cb6)"/>
<line x1="262.30" y1="124.20" x2="432.00" y2="124.20" stroke="#dcdcdc" stroke-width="0.5"/>
<line x1="244.60" y1="142.60" x2="432.00" y2="142.60" stroke="#dcdcdc" stroke-width="0.5"/>
<line x1="244.60" y1="149.40" x2="432.00" y2="149.40" stroke="#dcdcdc" stroke-width="0.5"/>
<line x1="244.60" y1="142.60" x2="244.60" y2="149.40" stroke="#dcdcdc" stroke-width="0.5"/>
<line x1="262.30" y1="124.20" x2="262.30" y2="149.40" stroke="#dcdcdc" stroke-width="0.5"/>
<line x1="286.54" y1="124.20" x2="286.54" y2="149.40" stroke="#dcdcdc" stroke-width="0.5"/>
<line x1="310.79" y1="124.20" x2="310.79" y2="149.40" stroke="#dcdcdc" stroke-width="0.5"/>
<line x1="335.03" y1="124.20" x2="335.03" y2="149.40" stroke="#dcdcdc" stroke-width="0.5"/>
<line x1="359.27" y1="124.20" x2="359.27" y2="149.40" stroke="#dcdcdc" stroke-width="0.5"/>
<line x1="383.51" y1="124.20" x2="383.51" y2="149.40" stroke="#dcdcdc" stroke-width="0.5"/>
<line x1="407.76" y1="124.20" x2="407.76" y2="149.40" stroke="#dcdcdc" stroke-width="0.5"/>
<line x1="432.00" y1="124.20" x2="432.00" y2="149.40" stroke="#dcdcdc" stroke-width="0.5"/>
<text transform="translate(274.42 131.78) scale(0.84 1)" font-size="4.1" text-anchor="middle" fill="#484848" font-family="Liberation Sans, Arial, sans-serif" >Naïve Bayes</text>
<text transform="translate(274.42 137.09) scale(0.84 1)" font-size="4.1" text-anchor="middle" fill="#484848" font-family="Liberation Sans, Arial, sans-serif" >Model - NB</text>
<text transform="translate(298.66 129.13) scale(0.84 1)" font-size="4.1" text-anchor="middle" fill="#484848" font-family="Liberation Sans, Arial, sans-serif" >Decision</text>
<text transform="translate(298.66 134.44) scale(0.84 1)" font-size="4.1" text-anchor="middle" fill="#484848" font-family="Liberation Sans, Arial, sans-serif" >Tree Model -</text>
<text transform="translate(298.66 139.73) scale(0.84 1)" font-size="4.1" text-anchor="middle" fill="#484848" font-family="Liberation Sans, Arial, sans-serif" >DT</text>
<text transform="translate(322.91 131.78) scale(0.84 1)" font-size="4.1" text-anchor="middle" fill="#484848" font-family="Liberation Sans, Arial, sans-serif" >KNN Model -</text>
<text transform="translate(322.91 137.09) scale(0.84 1)" font-size="4.1" text-anchor="middle" fill="#484848" font-family="Liberation Sans, Arial, sans-serif" >KNN</text>
<text transform="translate(347.15 129.13) scale(0.84 1)" font-size="4.1" text-anchor="middle" fill="#484848" font-family="Liberation Sans, Arial, sans-serif" >SVM Linear</text>
<text transform="translate(347.15 134.44) scale(0.84 1)" font-size="4.1" text-anchor="middle" fill="#484848" font-family="Liberation Sans, Arial, sans-serif" >Model -</text>
<text transform="translate(347.15 139.73) scale(0.84 1)" font-size="4.1" text-anchor="middle" fill="#484848" font-family="Liberation Sans, Arial, sans-serif" >SVM</text>
<text transform="translate(371.39 129.13) scale(0.84 1)" font-size="4.1" text-anchor="middle" fill="#484848" font-family="Liberation Sans, Arial, sans-serif" >Multi-layer</text>
<text transform="translate(371.39 134.44) scale(0.84 1)" font-size="4.1" text-anchor="middle" fill="#484848" font-family="Liberation Sans, Arial, sans-serif" >Perceptron</text>
<text transform="translate(371.39 139.73) scale(0.84 1)" font-size="4.1" text-anchor="middle" fill="#484848" font-family="Liberation Sans, Arial, sans-serif" >MLP</text>
<text transform="translate(395.64 131.78) scale(0.84 1)" font-size="4.1" text-anchor="middle" fill="#484848" font-family="Liberation Sans, Arial, sans-serif" >SVM RBF</text>
<text transform="translate(395.64 137.09) scale(0.84 1)" font-size="4.1" text-anchor="middle" fill="#484848" font-family="Liberation Sans, Arial, sans-serif" >Model - RBF</text>
<text transform="translate(419.88 129.13) scale(0.84 1)" font-size="4.1" text-anchor="middle" fill="#484848" font-family="Liberation Sans, Arial, sans-serif" >Random</text>
<text transform="translate(419.88 134.44) scale(0.84 1)" font-size="4.1" text-anchor="middle" fill="#484848" font-family="Liberation Sans, Arial, sans-serif" >Forest</text>
<text transform="translate(419.88 139.73) scale(0.84 1)" font-size="4.1" text-anchor="middle" fill="#484848" font-family="Liberation Sans, Arial, sans-serif" >Model - RF</text>
<rect x="246.00" y="145.00" width="1.70" height="2.00" fill="#2a4f80" stroke="none" stroke-width="0.5" />
<text transform="translate(248.40 147.40) scale(0.84 1)" font-size="4.1" text-anchor="start" fill="#303030" font-family="Liberation Sans, Arial, sans-serif" stroke="#303030" stroke-width="0.08" >FPR [%]</text>
<text transform="translate(274.42 147.50) scale(0.84 1)" font-size="4.4" text-anchor="middle" fill="#303030" font-family="Liberation Sans, Arial, sans-serif" stroke="#303030" stroke-width="0.08" >17.13%</text>
<text transform="translate(298.66 147.50) scale(0.84 1)" font-size="4.4" text-anchor="middle" fill="#303030" font-family="Liberation Sans, Arial, sans-serif" stroke="#303030" stroke-width="0.08" >7.42%</text>
<text transform="translate(322.91 147.50) scale(0.84 1)" font-size="4.4" text-anchor="middle" fill="#303030" font-family="Liberation Sans, Arial, sans-serif" stroke="#303030" stroke-width="0.08" >7.23%</text>
<text transform="translate(347.15 147.50) scale(0.84 1)" font-size="4.4" text-anchor="middle" fill="#303030" font-family="Liberation Sans, Arial, sans-serif" stroke="#303030" stroke-width="0.08" >6.78%</text>
<text transform="translate(371.39 147.50) scale(0.84 1)" font-size="4.4" text-anchor="middle" fill="#303030" font-family="Liberation Sans, Arial, sans-serif" stroke="#303030" stroke-width="0.08" >5.02%</text>
<text transform="translate(395.64 147.50) scale(0.84 1)" font-size="4.4" text-anchor="middle" fill="#303030" font-family="Liberation Sans, Arial, sans-serif" stroke="#303030" stroke-width="0.08" >4.55%</text>
<text transform="translate(419.88 147.50) scale(0.84 1)" font-size="4.4" text-anchor="middle" fill="#303030" font-family="Liberation Sans, Arial, sans-serif" stroke="#303030" stroke-width="0.08" >4.14%</text>
<rect x="324.60" y="155.70" width="1.80" height="2.00" fill="#2a4f80" stroke="none" stroke-width="0.5" />
<text x="327.40" y="158.20" font-size="4.4" text-anchor="start" fill="#303030" font-family="Liberation Sans, Arial, sans-serif" textLength="11.50" lengthAdjust="spacingAndGlyphs" stroke="#303030" stroke-width="0.08" >FPR [%]</text>
<text x="337.20" y="174.80" font-size="9.8" text-anchor="middle" fill="#1a1a1a" font-family="Liberation Serif, Times New Roman, serif" font-weight="bold" >(b)</text>
<rect x="79.40" y="179.00" width="293.90" height="172.30" fill="#ffffff" stroke="#d8d8d8" stroke-width="0.6" />
<text x="226.30" y="190.40" font-size="7.0" text-anchor="middle" fill="#545454" font-family="Liberation Sans, Arial, sans-serif" font-weight="bold" textLength="151.50" lengthAdjust="spacingAndGlyphs" >Receiver Operating Characteristic (ROC Curve)</text>
<line x1="114.50" y1="198.78" x2="114.50" y2="281.00" stroke="#dcdcdc" stroke-width="0.5"/>
<text x="114.50" y="291.00" font-size="5.8" text-anchor="middle" fill="#595959" font-family="Liberation Sans, Arial, sans-serif" font-weight="bold" >0.02</text>
<line x1="142.10" y1="198.78" x2="142.10" y2="281.00" stroke="#dcdcdc" stroke-width="0.5"/>
<text x="142.10" y="291.00" font-size="5.8" text-anchor="middle" fill="#595959" font-family="Liberation Sans, Arial, sans-serif" font-weight="bold" >0.04</text>
<line x1="169.70" y1="198.78" x2="169.70" y2="281.00" stroke="#dcdcdc" stroke-width="0.5"/>
<text x="169.70" y="291.00" font-size="5.8" text-anchor="middle" fill="#595959" font-family="Liberation Sans, Arial, sans-serif" font-weight="bold" >0.06</text>
<line x1="197.30" y1="198.78" x2="197.30" y2="281.00" stroke="#dcdcdc" stroke-width="0.5"/>
<text x="197.30" y="291.00" font-size="5.8" text-anchor="middle" fill="#595959" font-family="Liberation Sans, Arial, sans-serif" font-weight="bold" >0.08</text>
<line x1="224.90" y1="198.78" x2="224.90" y2="281.00" stroke="#dcdcdc" stroke-width="0.5"/>
<text x="224.90" y="291.00" font-size="5.8" text-anchor="middle" fill="#595959" font-family="Liberation Sans, Arial, sans-serif" font-weight="bold" >0.1</text>
<line x1="252.50" y1="198.78" x2="252.50" y2="281.00" stroke="#dcdcdc" stroke-width="0.5"/>
<text x="252.50" y="291.00" font-size="5.8" text-anchor="middle" fill="#595959" font-family="Liberation Sans, Arial, sans-serif" font-weight="bold" >0.12</text>
<line x1="280.10" y1="198.78" x2="280.10" y2="281.00" stroke="#dcdcdc" stroke-width="0.5"/>
<text x="280.10" y="291.00" font-size="5.8" text-anchor="middle" fill="#595959" font-family="Liberation Sans, Arial, sans-serif" font-weight="bold" >0.14</text>
<line x1="307.70" y1="198.78" x2="307.70" y2="281.00" stroke="#dcdcdc" stroke-width="0.5"/>
<text x="307.70" y="291.00" font-size="5.8" text-anchor="middle" fill="#595959" font-family="Liberation Sans, Arial, sans-serif" font-weight="bold" >0.16</text>
<line x1="335.30" y1="198.78" x2="335.30" y2="281.00" stroke="#dcdcdc" stroke-width="0.5"/>
<text x="335.30" y="291.00" font-size="5.8" text-anchor="middle" fill="#595959" font-family="Liberation Sans, Arial, sans-serif" font-weight="bold" >0.18</text>
<line x1="362.90" y1="198.78" x2="362.90" y2="281.00" stroke="#dcdcdc" stroke-width="0.5"/>
<text x="362.90" y="291.00" font-size="5.8" text-anchor="middle" fill="#595959" font-family="Liberation Sans, Arial, sans-serif" font-weight="bold" >0.2</text>
<line x1="114.50" y1="205.10" x2="362.90" y2="205.10" stroke="#dcdcdc" stroke-width="0.5"/>
<text x="108.40" y="207.20" font-size="5.8" text-anchor="end" fill="#595959" font-family="Liberation Sans, Arial, sans-serif" font-weight="bold" textLength="11.70" lengthAdjust="spacingAndGlyphs" >0.99</text>
<line x1="114.50" y1="217.75" x2="362.90" y2="217.75" stroke="#dcdcdc" stroke-width="0.5"/>
<text x="108.40" y="219.85" font-size="5.8" text-anchor="end" fill="#595959" font-family="Liberation Sans, Arial, sans-serif" font-weight="bold" textLength="11.70" lengthAdjust="spacingAndGlyphs" >0.97</text>
<line x1="114.50" y1="230.40" x2="362.90" y2="230.40" stroke="#dcdcdc" stroke-width="0.5"/>
<text x="108.40" y="232.50" font-size="5.8" text-anchor="end" fill="#595959" font-family="Liberation Sans, Arial, sans-serif" font-weight="bold" textLength="11.70" lengthAdjust="spacingAndGlyphs" >0.95</text>
<line x1="114.50" y1="243.05" x2="362.90" y2="243.05" stroke="#dcdcdc" stroke-width="0.5"/>
<text x="108.40" y="245.15" font-size="5.8" text-anchor="end" fill="#595959" font-family="Liberation Sans, Arial, sans-serif" font-weight="bold" textLength="11.70" lengthAdjust="spacingAndGlyphs" >0.93</text>
<line x1="114.50" y1="255.70" x2="362.90" y2="255.70" stroke="#dcdcdc" stroke-width="0.5"/>
<text x="108.40" y="257.80" font-size="5.8" text-anchor="end" fill="#595959" font-family="Liberation Sans, Arial, sans-serif" font-weight="bold" textLength="11.70" lengthAdjust="spacingAndGlyphs" >0.91</text>
<line x1="114.50" y1="268.35" x2="362.90" y2="268.35" stroke="#dcdcdc" stroke-width="0.5"/>
<text x="108.40" y="270.45" font-size="5.8" text-anchor="end" fill="#595959" font-family="Liberation Sans, Arial, sans-serif" font-weight="bold" textLength="11.70" lengthAdjust="spacingAndGlyphs" >0.89</text>
<line x1="114.50" y1="281.00" x2="362.90" y2="281.00" stroke="#dcdcdc" stroke-width="0.5"/>
<text x="108.40" y="283.10" font-size="5.8" text-anchor="end" fill="#595959" font-family="Liberation Sans, Arial, sans-serif" font-weight="bold" textLength="11.70" lengthAdjust="spacingAndGlyphs" >0.87</text>
<line x1="114.50" y1="281.00" x2="362.90" y2="281.00" stroke="#c8c8c8" stroke-width="0.6"/>
<text x="89.60" y="274.20" font-size="5.1" text-anchor="middle" fill="#595959" font-family="Liberation Sans, Arial, sans-serif" font-weight="bold" textLength="43.80" lengthAdjust="spacingAndGlyphs" transform="rotate(-90 89.60 274.20)" >True Positive Rate</text>
<text x="238.90" y="298.90" font-size="5.4" text-anchor="middle" fill="#595959" font-family="Liberation Sans, Arial, sans-serif" font-weight="bold" textLength="50.50" lengthAdjust="spacingAndGlyphs" >False Positive Rate</text>
<clipPath id="cpc"><rect x="114.5" y="196.775" width="248.99999999999997" height="84.225"/></clipPath>
<g clip-path="url(#cpc)" fill="none" stroke-linejoin="round" stroke-linecap="round">
<path d="M268.6 283 L272.6 272.7 C276 264.5 284 264 292.2 262.4 C297 258 300 254 302.8 249.4 L304.8 246.2 L325.3 246.2 L330.3 241.6 L344.3 240.8 L350.3 235.2 L353 230.7 L352.8 227 L363.5 226.7" stroke="#c4500f" stroke-width="1.05"/>
<circle cx="272.6" cy="272.7" r="1.55" fill="#c4500f" stroke="none"/>
<circle cx="292.2" cy="262.4" r="1.55" fill="#c4500f" stroke="none"/>
<circle cx="302.8" cy="249.4" r="1.55" fill="#c4500f" stroke="none"/>
<circle cx="304.8" cy="246.2" r="1.55" fill="#c4500f" stroke="none"/>
<circle cx="325.3" cy="246.2" r="1.55" fill="#c4500f" stroke="none"/>
<circle cx="330.3" cy="241.6" r="1.55" fill="#c4500f" stroke="none"/>
<circle cx="344.3" cy="240.8" r="1.55" fill="#c4500f" stroke="none"/>
<circle cx="350.3" cy="235.2" r="1.55" fill="#c4500f" stroke="none"/>
<circle cx="353" cy="230.7" r="1.55" fill="#c4500f" stroke="none"/>
<circle cx="352.8" cy="227" r="1.55" fill="#c4500f" stroke="none"/>
<path d="M160.0 283 L161.3 274.7 C163.5 262 166.5 253 171.0 248.9 L178.7 245.3 L186.5 244.6 L194.5 239.6 L200.1 237.6 L202.9 233.4 L206.6 225.0 L212.5 219.1 L363.5 216.6" stroke="#1f4587" stroke-width="1.05"/>
<circle cx="161.3" cy="274.7" r="1.55" fill="#1f4587" stroke="none"/>
<circle cx="171.0" cy="248.9" r="1.55" fill="#1f4587" stroke="none"/>
<circle cx="178.7" cy="245.3" r="1.55" fill="#1f4587" stroke="none"/>
<circle cx="186.5" cy="244.6" r="1.55" fill="#1f4587" stroke="none"/>
<circle cx="194.5" cy="239.6" r="1.55" fill="#1f4587" stroke="none"/>
<circle cx="200.1" cy="237.6" r="1.55" fill="#1f4587" stroke="none"/>
<circle cx="202.9" cy="233.4" r="1.55" fill="#1f4587" stroke="none"/>
<circle cx="206.6" cy="225.0" r="1.55" fill="#1f4587" stroke="none"/>
<circle cx="212.5" cy="219.1" r="1.55" fill="#1f4587" stroke="none"/>
<path d="M139.7 283 L143.7 254.8 C145.5 247 150 243.5 157.6 242 L177.5 240.5 L187.1 237.3 L188.8 235.6 L190.4 234.0 L192.1 232.3 L197.3 231.3 L199.6 224.8 L363.5 221.3" stroke="#46ab3a" stroke-width="1.05"/>
<circle cx="143.7" cy="254.8" r="1.55" fill="#46ab3a" stroke="none"/>
<circle cx="177.5" cy="240.5" r="1.55" fill="#46ab3a" stroke="none"/>
<circle cx="187.1" cy="237.3" r="1.55" fill="#46ab3a" stroke="none"/>
<circle cx="188.8" cy="235.6" r="1.55" fill="#46ab3a" stroke="none"/>
<circle cx="190.4" cy="234.0" r="1.55" fill="#46ab3a" stroke="none"/>
<circle cx="192.1" cy="232.3" r="1.55" fill="#46ab3a" stroke="none"/>
<circle cx="197.3" cy="231.3" r="1.55" fill="#46ab3a" stroke="none"/>
<circle cx="199.6" cy="224.8" r="1.55" fill="#46ab3a" stroke="none"/>
<path d="M148.3 283 L151.8 250.5 L156.9 241.5 L161.2 235.1 L174.2 233.4 L177.5 231.5 L186.5 226.1 L188.2 224.7 L197.3 222.9 L203.5 221.4 L206.9 220.3 L213 219.8 L363.5 217.7" stroke="#2e9be0" stroke-width="1.05"/>
<circle cx="151.8" cy="250.5" r="1.55" fill="#2e9be0" stroke="none"/>
<circle cx="156.9" cy="241.5" r="1.55" fill="#2e9be0" stroke="none"/>
<circle cx="161.2" cy="235.1" r="1.55" fill="#2e9be0" stroke="none"/>
<circle cx="174.2" cy="233.4" r="1.55" fill="#2e9be0" stroke="none"/>
<circle cx="177.5" cy="231.5" r="1.55" fill="#2e9be0" stroke="none"/>
<circle cx="186.5" cy="226.1" r="1.55" fill="#2e9be0" stroke="none"/>
<circle cx="188.2" cy="224.7" r="1.55" fill="#2e9be0" stroke="none"/>
<circle cx="197.3" cy="222.9" r="1.55" fill="#2e9be0" stroke="none"/>
<circle cx="203.5" cy="221.4" r="1.55" fill="#2e9be0" stroke="none"/>
<circle cx="206.9" cy="220.3" r="1.55" fill="#2e9be0" stroke="none"/>
<path d="M119.1 283 L121.9 248.5 C122.6 244.5 124 243 126.5 241.8 L138.0 239.3 L141.3 238.2 L143.7 235.3 L147.3 233.1 L151.3 231.7 L154.3 230.6 L161.8 226.1 L165.7 225.0 L171.3 220.2 L212 219.9" stroke="#ffc20e" stroke-width="1.05"/>
<circle cx="121.9" cy="248.5" r="1.55" fill="#ffc20e" stroke="none"/>
<circle cx="138.0" cy="239.3" r="1.55" fill="#ffc20e" stroke="none"/>
<circle cx="141.3" cy="238.2" r="1.55" fill="#ffc20e" stroke="none"/>
<circle cx="143.7" cy="235.3" r="1.55" fill="#ffc20e" stroke="none"/>
<circle cx="147.3" cy="233.1" r="1.55" fill="#ffc20e" stroke="none"/>
<circle cx="151.3" cy="231.7" r="1.55" fill="#ffc20e" stroke="none"/>
<circle cx="154.3" cy="230.6" r="1.55" fill="#ffc20e" stroke="none"/>
<circle cx="161.8" cy="226.1" r="1.55" fill="#ffc20e" stroke="none"/>
<circle cx="165.7" cy="225.0" r="1.55" fill="#ffc20e" stroke="none"/>
<circle cx="171.3" cy="220.2" r="1.55" fill="#ffc20e" stroke="none"/>
<path d="M124.2 283 L126.6 247.4 L127.7 238.6 L133.6 235.6 L137.8 232.3 L139.8 230.6 L150.5 230.4 L156.5 224.6 L164.6 220.5 L166.3 213.2 L180.3 212.4 L363.5 210.8" stroke="#f47a2a" stroke-width="1.05"/>
<circle cx="126.6" cy="247.4" r="1.55" fill="#f47a2a" stroke="none"/>
<circle cx="127.7" cy="238.6" r="1.55" fill="#f47a2a" stroke="none"/>
<circle cx="133.6" cy="235.6" r="1.55" fill="#f47a2a" stroke="none"/>
<circle cx="137.8" cy="232.3" r="1.55" fill="#f47a2a" stroke="none"/>
<circle cx="139.8" cy="230.6" r="1.55" fill="#f47a2a" stroke="none"/>
<circle cx="150.5" cy="230.4" r="1.55" fill="#f47a2a" stroke="none"/>
<circle cx="156.5" cy="224.6" r="1.55" fill="#f47a2a" stroke="none"/>
<circle cx="164.6" cy="220.5" r="1.55" fill="#f47a2a" stroke="none"/>
<circle cx="166.3" cy="213.2" r="1.55" fill="#f47a2a" stroke="none"/>
<circle cx="180.3" cy="212.4" r="1.55" fill="#f47a2a" stroke="none"/>
<path d="M123.5 283 L125.5 240.4 L126.3 232.8 L128.8 228.2 L143.4 227.0 L152.2 223.6 L159.6 223.4 L167.4 218.2 L170.8 216.5 L173.4 215.1 L176.1 211.2 L363.5 209.2" stroke="#2673cf" stroke-width="1.05"/>
<circle cx="126.3" cy="232.8" r="1.55" fill="#2673cf" stroke="none"/>
<circle cx="128.8" cy="228.2" r="1.55" fill="#2673cf" stroke="none"/>
<circle cx="143.4" cy="227.0" r="1.55" fill="#2673cf" stroke="none"/>
<circle cx="152.2" cy="223.6" r="1.55" fill="#2673cf" stroke="none"/>
<circle cx="159.6" cy="223.4" r="1.55" fill="#2673cf" stroke="none"/>
<circle cx="167.4" cy="218.2" r="1.55" fill="#2673cf" stroke="none"/>
<circle cx="170.8" cy="216.5" r="1.55" fill="#2673cf" stroke="none"/>
<circle cx="173.4" cy="215.1" r="1.55" fill="#2673cf" stroke="none"/>
<circle cx="176.1" cy="211.2" r="1.55" fill="#2673cf" stroke="none"/>
</g>
<line x1="134.50" y1="313.00" x2="147.10" y2="313.00" stroke="#2673cf" stroke-width="1.1"/>
<circle cx="140.8" cy="313.0" r="1.4" fill="#2673cf"/>
<text x="148.10" y="315.10" font-size="6.0" text-anchor="start" fill="#595959" font-family="Liberation Sans, Arial, sans-serif" font-weight="bold" textLength="68.20" lengthAdjust="spacingAndGlyphs" >MLP Model, AUC = 0.957</text>
<line x1="227.50" y1="313.00" x2="240.10" y2="313.00" stroke="#f47a2a" stroke-width="1.1"/>
<circle cx="233.8" cy="313.0" r="1.4" fill="#f47a2a"/>
<text x="241.10" y="315.10" font-size="6.0" text-anchor="start" fill="#595959" font-family="Liberation Sans, Arial, sans-serif" font-weight="bold" textLength="78.60" lengthAdjust="spacingAndGlyphs" >Random Forest, AUC = 0.954</text>
<line x1="134.50" y1="323.40" x2="147.10" y2="323.40" stroke="#ffc20e" stroke-width="1.1"/>
<circle cx="140.8" cy="323.4" r="1.4" fill="#ffc20e"/>
<text x="148.10" y="325.50" font-size="6.0" text-anchor="start" fill="#595959" font-family="Liberation Sans, Arial, sans-serif" font-weight="bold" textLength="56.30" lengthAdjust="spacingAndGlyphs" >SVM-RBF, AUC = 950</text>
<line x1="227.50" y1="323.40" x2="240.10" y2="323.40" stroke="#2e9be0" stroke-width="1.1"/>
<circle cx="233.8" cy="323.4" r="1.4" fill="#2e9be0"/>
<text x="241.10" y="325.50" font-size="6.0" text-anchor="start" fill="#595959" font-family="Liberation Sans, Arial, sans-serif" font-weight="bold" textLength="68.80" lengthAdjust="spacingAndGlyphs" >SVM Linear, AUC = 0.940</text>
<line x1="134.50" y1="333.80" x2="147.10" y2="333.80" stroke="#46ab3a" stroke-width="1.1"/>
<circle cx="140.8" cy="333.8" r="1.4" fill="#46ab3a"/>
<text x="148.10" y="335.90" font-size="6.0" text-anchor="start" fill="#595959" font-family="Liberation Sans, Arial, sans-serif" font-weight="bold" textLength="68.20" lengthAdjust="spacingAndGlyphs" >KNN Model, AUC = 0.935</text>
<line x1="227.50" y1="333.80" x2="240.10" y2="333.80" stroke="#1f4587" stroke-width="1.1"/>
<circle cx="233.8" cy="333.8" r="1.4" fill="#1f4587"/>
<text x="241.10" y="335.90" font-size="6.0" text-anchor="start" fill="#595959" font-family="Liberation Sans, Arial, sans-serif" font-weight="bold" textLength="75.30" lengthAdjust="spacingAndGlyphs" >Decision Tree, AUC = 0.929</text>
<line x1="134.50" y1="344.20" x2="147.10" y2="344.20" stroke="#c4500f" stroke-width="1.1"/>
<circle cx="140.8" cy="344.2" r="1.4" fill="#c4500f"/>
<text x="148.10" y="346.30" font-size="6.0" text-anchor="start" fill="#595959" font-family="Liberation Sans, Arial, sans-serif" font-weight="bold" textLength="70.80" lengthAdjust="spacingAndGlyphs" >Naive Bayes, AUC = 0.877</text>
<text x="223.60" y="364.80" font-size="9.8" text-anchor="middle" fill="#1a1a1a" font-family="Liberation Serif, Times New Roman, serif" font-weight="bold" >(c)</text>
<rect x="7.00" y="371.80" width="209.90" height="157.20" fill="#ffffff" stroke="#e2e2e2" stroke-width="0.6" />
<text x="64.00" y="385.50" font-size="9.4" text-anchor="start" fill="#595959" font-family="Liberation Sans, Arial, sans-serif" textLength="35.90" lengthAdjust="spacingAndGlyphs" >Evaluation</text>
<text x="102.30" y="385.50" font-size="8.3" text-anchor="start" fill="#595959" font-family="Liberation Sans, Arial, sans-serif" textLength="58.60" lengthAdjust="spacingAndGlyphs" >CPU Usage Testing</text>
<text x="84.00" y="397.00" font-size="9.2" text-anchor="start" fill="#595959" font-family="Liberation Sans, Arial, sans-serif" textLength="57.80" lengthAdjust="spacingAndGlyphs" >for 10 / Iteration</text>
<line x1="57.60" y1="406.60" x2="212.90" y2="406.60" stroke="#dcdcdc" stroke-width="0.5"/>
<text transform="translate(52.90 408.15) scale(0.84 1)" font-size="4.5" text-anchor="end" fill="#444444" font-family="Liberation Sans, Arial, sans-serif" stroke="#444444" stroke-width="0.08" >2.5</text>
<line x1="57.60" y1="423.64" x2="212.90" y2="423.64" stroke="#dcdcdc" stroke-width="0.5"/>
<text transform="translate(52.90 425.19) scale(0.84 1)" font-size="4.5" text-anchor="end" fill="#444444" font-family="Liberation Sans, Arial, sans-serif" stroke="#444444" stroke-width="0.08" >2</text>
<line x1="57.60" y1="440.68" x2="212.90" y2="440.68" stroke="#dcdcdc" stroke-width="0.5"/>
<text transform="translate(52.90 442.23) scale(0.84 1)" font-size="4.5" text-anchor="end" fill="#444444" font-family="Liberation Sans, Arial, sans-serif" stroke="#444444" stroke-width="0.08" >1.5</text>
<line x1="57.60" y1="457.72" x2="212.90" y2="457.72" stroke="#dcdcdc" stroke-width="0.5"/>
<text transform="translate(52.90 459.27) scale(0.84 1)" font-size="4.5" text-anchor="end" fill="#444444" font-family="Liberation Sans, Arial, sans-serif" stroke="#444444" stroke-width="0.08" >1</text>
<line x1="57.60" y1="474.76" x2="212.90" y2="474.76" stroke="#dcdcdc" stroke-width="0.5"/>
<text transform="translate(52.90 476.31) scale(0.84 1)" font-size="4.5" text-anchor="end" fill="#444444" font-family="Liberation Sans, Arial, sans-serif" stroke="#444444" stroke-width="0.08" >0.5</text>
<line x1="57.60" y1="491.80" x2="212.90" y2="491.80" stroke="#dcdcdc" stroke-width="0.5"/>
<text transform="translate(52.90 493.35) scale(0.84 1)" font-size="4.5" text-anchor="end" fill="#444444" font-family="Liberation Sans, Arial, sans-serif" stroke="#444444" stroke-width="0.08" >0</text>
<text x="20.80" y="449.40" font-size="8.1" text-anchor="middle" fill="#6c6c6c" font-family="Liberation Sans, Arial, sans-serif" textLength="42.30" lengthAdjust="spacingAndGlyphs" transform="rotate(-90 20.80 449.40)" >Second [S]</text>
<rect x="64.74" y="418.52" width="7.30" height="73.28" fill="url(#pd)" stroke="none" stroke-width="0.5" />
<rect x="86.93" y="471.45" width="7.30" height="20.35" fill="url(#pd)" stroke="none" stroke-width="0.5" />
<rect x="109.11" y="488.57" width="7.30" height="3.23" fill="url(#pd)" stroke="none" stroke-width="0.5" />
<rect x="131.30" y="490.70" width="7.30" height="1.10" fill="#e88082" stroke="none" stroke-width="0.5" />
<rect x="153.49" y="490.99" width="7.30" height="0.81" fill="#e88082" stroke="none" stroke-width="0.5" />
<line x1="57.60" y1="491.80" x2="212.90" y2="491.80" stroke="#dcdcdc" stroke-width="0.5"/>
<line x1="13.90" y1="507.10" x2="212.90" y2="507.10" stroke="#dcdcdc" stroke-width="0.5"/>
<line x1="13.90" y1="515.10" x2="212.90" y2="515.10" stroke="#dcdcdc" stroke-width="0.5"/>
<line x1="13.90" y1="507.10" x2="13.90" y2="515.10" stroke="#dcdcdc" stroke-width="0.5"/>
<line x1="57.60" y1="491.80" x2="57.60" y2="515.10" stroke="#dcdcdc" stroke-width="0.5"/>
<line x1="79.79" y1="491.80" x2="79.79" y2="515.10" stroke="#dcdcdc" stroke-width="0.5"/>
<line x1="101.97" y1="491.80" x2="101.97" y2="515.10" stroke="#dcdcdc" stroke-width="0.5"/>
<line x1="124.16" y1="491.80" x2="124.16" y2="515.10" stroke="#dcdcdc" stroke-width="0.5"/>
<line x1="146.34" y1="491.80" x2="146.34" y2="515.10" stroke="#dcdcdc" stroke-width="0.5"/>
<line x1="168.53" y1="491.80" x2="168.53" y2="515.10" stroke="#dcdcdc" stroke-width="0.5"/>
<line x1="190.71" y1="491.80" x2="190.71" y2="515.10" stroke="#dcdcdc" stroke-width="0.5"/>
<line x1="212.90" y1="491.80" x2="212.90" y2="515.10" stroke="#dcdcdc" stroke-width="0.5"/>
<text transform="translate(68.69 498.78) scale(0.84 1)" font-size="3.8" text-anchor="middle" fill="#484848" font-family="Liberation Sans, Arial, sans-serif" >KNN Model -</text>
<text transform="translate(68.69 503.68) scale(0.84 1)" font-size="3.8" text-anchor="middle" fill="#484848" font-family="Liberation Sans, Arial, sans-serif" >KNN</text>
<text transform="translate(90.88 498.78) scale(0.84 1)" font-size="3.8" text-anchor="middle" fill="#484848" font-family="Liberation Sans, Arial, sans-serif" >SVM RBF</text>
<text transform="translate(90.88 503.68) scale(0.84 1)" font-size="3.8" text-anchor="middle" fill="#484848" font-family="Liberation Sans, Arial, sans-serif" >Model - RBF</text>
<text transform="translate(113.06 496.33) scale(0.84 1)" font-size="3.8" text-anchor="middle" fill="#484848" font-family="Liberation Sans, Arial, sans-serif" >SVM Linear</text>
<text transform="translate(113.06 501.23) scale(0.84 1)" font-size="3.8" text-anchor="middle" fill="#484848" font-family="Liberation Sans, Arial, sans-serif" >Model -</text>
<text transform="translate(113.06 506.13) scale(0.84 1)" font-size="3.8" text-anchor="middle" fill="#484848" font-family="Liberation Sans, Arial, sans-serif" >SVM</text>
<text transform="translate(135.25 496.33) scale(0.84 1)" font-size="3.8" text-anchor="middle" fill="#484848" font-family="Liberation Sans, Arial, sans-serif" >Random</text>
<text transform="translate(135.25 501.23) scale(0.84 1)" font-size="3.8" text-anchor="middle" fill="#484848" font-family="Liberation Sans, Arial, sans-serif" >Forest</text>
<text transform="translate(135.25 506.13) scale(0.84 1)" font-size="3.8" text-anchor="middle" fill="#484848" font-family="Liberation Sans, Arial, sans-serif" >Model - RF</text>
<text transform="translate(157.44 498.78) scale(0.84 1)" font-size="3.8" text-anchor="middle" fill="#484848" font-family="Liberation Sans, Arial, sans-serif" >Naïve Bayes</text>
<text transform="translate(157.44 503.68) scale(0.84 1)" font-size="3.8" text-anchor="middle" fill="#484848" font-family="Liberation Sans, Arial, sans-serif" >Model - NB</text>
<text transform="translate(179.62 496.33) scale(0.84 1)" font-size="3.8" text-anchor="middle" fill="#484848" font-family="Liberation Sans, Arial, sans-serif" >Multi-layer</text>
<text transform="translate(179.62 501.23) scale(0.84 1)" font-size="3.8" text-anchor="middle" fill="#484848" font-family="Liberation Sans, Arial, sans-serif" >Perceptron</text>
<text transform="translate(179.62 506.13) scale(0.84 1)" font-size="3.8" text-anchor="middle" fill="#484848" font-family="Liberation Sans, Arial, sans-serif" >MLP</text>
<text transform="translate(201.81 496.33) scale(0.84 1)" font-size="3.8" text-anchor="middle" fill="#484848" font-family="Liberation Sans, Arial, sans-serif" >Decision</text>
<text transform="translate(201.81 501.23) scale(0.84 1)" font-size="3.8" text-anchor="middle" fill="#484848" font-family="Liberation Sans, Arial, sans-serif" >Tree Model -</text>
<text transform="translate(201.81 506.13) scale(0.84 1)" font-size="3.8" text-anchor="middle" fill="#484848" font-family="Liberation Sans, Arial, sans-serif" >DT</text>
<rect x="16.10" y="510.20" width="1.40" height="1.80" fill="#e88082" stroke="none" stroke-width="0.5" />
<text x="18.60" y="512.40" font-size="3.8" text-anchor="start" fill="#303030" font-family="Liberation Sans, Arial, sans-serif" textLength="37.70" lengthAdjust="spacingAndGlyphs" stroke="#303030" stroke-width="0.08" >Testing_Time [Second [s]]</text>
<text x="68.69" y="512.40" font-size="3.8" text-anchor="middle" fill="#303030" font-family="Liberation Sans, Arial, sans-serif" textLength="17.99" lengthAdjust="spacingAndGlyphs" stroke="#303030" stroke-width="0.08" >2.150264287</text>
<text x="90.88" y="512.40" font-size="3.8" text-anchor="middle" fill="#303030" font-family="Liberation Sans, Arial, sans-serif" textLength="17.99" lengthAdjust="spacingAndGlyphs" stroke="#303030" stroke-width="0.08" >0.597020245</text>
<text x="113.06" y="512.40" font-size="3.8" text-anchor="middle" fill="#303030" font-family="Liberation Sans, Arial, sans-serif" textLength="17.99" lengthAdjust="spacingAndGlyphs" stroke="#303030" stroke-width="0.08" >0.094709013</text>
<text x="135.25" y="512.40" font-size="3.8" text-anchor="middle" fill="#303030" font-family="Liberation Sans, Arial, sans-serif" textLength="17.99" lengthAdjust="spacingAndGlyphs" stroke="#303030" stroke-width="0.08" >0.032197762</text>
<text x="157.44" y="512.40" font-size="3.8" text-anchor="middle" fill="#303030" font-family="Liberation Sans, Arial, sans-serif" textLength="17.99" lengthAdjust="spacingAndGlyphs" stroke="#303030" stroke-width="0.08" >0.023700118</text>
<text x="179.62" y="512.40" font-size="3.8" text-anchor="middle" fill="#303030" font-family="Liberation Sans, Arial, sans-serif" textLength="17.99" lengthAdjust="spacingAndGlyphs" stroke="#303030" stroke-width="0.08" >0.004404926</text>
<text x="201.81" y="512.40" font-size="3.8" text-anchor="middle" fill="#303030" font-family="Liberation Sans, Arial, sans-serif" textLength="17.99" lengthAdjust="spacingAndGlyphs" stroke="#303030" stroke-width="0.08" >0.002837089</text>
<rect x="88.40" y="520.70" width="1.70" height="2.00" fill="#e88082" stroke="none" stroke-width="0.5" />
<text x="91.40" y="523.20" font-size="4.4" text-anchor="start" fill="#303030" font-family="Liberation Sans, Arial, sans-serif" textLength="45.50" lengthAdjust="spacingAndGlyphs" stroke="#303030" stroke-width="0.08" >Testing_Time [Second [s]]</text>
<text x="113.20" y="542.50" font-size="9.8" text-anchor="middle" fill="#1a1a1a" font-family="Liberation Serif, Times New Roman, serif" font-weight="bold" >(d)</text>
<rect x="231.30" y="371.80" width="210.00" height="157.20" fill="#ffffff" stroke="#e2e2e2" stroke-width="0.6" />
<text x="268.40" y="385.50" font-size="9.4" text-anchor="start" fill="#595959" font-family="Liberation Sans, Arial, sans-serif" textLength="36.00" lengthAdjust="spacingAndGlyphs" >Evaluation</text>
<text x="307.00" y="385.50" font-size="9.4" text-anchor="start" fill="#595959" font-family="Liberation Sans, Arial, sans-serif" textLength="72.60" lengthAdjust="spacingAndGlyphs" >Energy Consumption</text>
<text x="383.10" y="385.50" font-size="8.3" text-anchor="start" fill="#595959" font-family="Liberation Sans, Arial, sans-serif" textLength="22.00" lengthAdjust="spacingAndGlyphs" >Testing</text>
<text x="308.40" y="397.00" font-size="9.2" text-anchor="start" fill="#595959" font-family="Liberation Sans, Arial, sans-serif" textLength="58.20" lengthAdjust="spacingAndGlyphs" >for 10 / Iteration</text>
<line x1="277.90" y1="406.60" x2="437.00" y2="406.60" stroke="#dcdcdc" stroke-width="0.5"/>
<text transform="translate(274.10 408.15) scale(0.84 1)" font-size="4.5" text-anchor="end" fill="#444444" font-family="Liberation Sans, Arial, sans-serif" stroke="#444444" stroke-width="0.08" >5</text>
<line x1="277.90" y1="415.12" x2="437.00" y2="415.12" stroke="#dcdcdc" stroke-width="0.5"/>
<text transform="translate(274.10 416.67) scale(0.84 1)" font-size="4.5" text-anchor="end" fill="#444444" font-family="Liberation Sans, Arial, sans-serif" stroke="#444444" stroke-width="0.08" >4.5</text>
<line x1="277.90" y1="423.64" x2="437.00" y2="423.64" stroke="#dcdcdc" stroke-width="0.5"/>
<text transform="translate(274.10 425.19) scale(0.84 1)" font-size="4.5" text-anchor="end" fill="#444444" font-family="Liberation Sans, Arial, sans-serif" stroke="#444444" stroke-width="0.08" >4</text>
<line x1="277.90" y1="432.16" x2="437.00" y2="432.16" stroke="#dcdcdc" stroke-width="0.5"/>
<text transform="translate(274.10 433.71) scale(0.84 1)" font-size="4.5" text-anchor="end" fill="#444444" font-family="Liberation Sans, Arial, sans-serif" stroke="#444444" stroke-width="0.08" >3.5</text>
<line x1="277.90" y1="440.68" x2="437.00" y2="440.68" stroke="#dcdcdc" stroke-width="0.5"/>
<text transform="translate(274.10 442.23) scale(0.84 1)" font-size="4.5" text-anchor="end" fill="#444444" font-family="Liberation Sans, Arial, sans-serif" stroke="#444444" stroke-width="0.08" >3</text>
<line x1="277.90" y1="449.20" x2="437.00" y2="449.20" stroke="#dcdcdc" stroke-width="0.5"/>
<text transform="translate(274.10 450.75) scale(0.84 1)" font-size="4.5" text-anchor="end" fill="#444444" font-family="Liberation Sans, Arial, sans-serif" stroke="#444444" stroke-width="0.08" >2.5</text>
<line x1="277.90" y1="457.72" x2="437.00" y2="457.72" stroke="#dcdcdc" stroke-width="0.5"/>
<text transform="translate(274.10 459.27) scale(0.84 1)" font-size="4.5" text-anchor="end" fill="#444444" font-family="Liberation Sans, Arial, sans-serif" stroke="#444444" stroke-width="0.08" >2</text>
<line x1="277.90" y1="466.24" x2="437.00" y2="466.24" stroke="#dcdcdc" stroke-width="0.5"/>
<text transform="translate(274.10 467.79) scale(0.84 1)" font-size="4.5" text-anchor="end" fill="#444444" font-family="Liberation Sans, Arial, sans-serif" stroke="#444444" stroke-width="0.08" >1.5</text>
<line x1="277.90" y1="474.76" x2="437.00" y2="474.76" stroke="#dcdcdc" stroke-width="0.5"/>
<text transform="translate(274.10 476.31) scale(0.84 1)" font-size="4.5" text-anchor="end" fill="#444444" font-family="Liberation Sans, Arial, sans-serif" stroke="#444444" stroke-width="0.08" >1</text>
<line x1="277.90" y1="483.28" x2="437.00" y2="483.28" stroke="#dcdcdc" stroke-width="0.5"/>
<text transform="translate(274.10 484.83) scale(0.84 1)" font-size="4.5" text-anchor="end" fill="#444444" font-family="Liberation Sans, Arial, sans-serif" stroke="#444444" stroke-width="0.08" >0.5</text>
<line x1="277.90" y1="491.80" x2="437.00" y2="491.80" stroke="#dcdcdc" stroke-width="0.5"/>
<text transform="translate(274.10 493.35) scale(0.84 1)" font-size="4.5" text-anchor="end" fill="#444444" font-family="Liberation Sans, Arial, sans-serif" stroke="#444444" stroke-width="0.08" >0</text>
<text x="245.40" y="449.10" font-size="7.8" text-anchor="middle" fill="#6c6c6c" font-family="Liberation Sans, Arial, sans-serif" textLength="60.00" lengthAdjust="spacingAndGlyphs" transform="rotate(-90 245.40 449.10)" >Energy  (Joule)</text>
<rect x="285.11" y="418.52" width="7.70" height="73.28" fill="url(#pe)" stroke="none" stroke-width="0.5" />
<rect x="307.84" y="471.45" width="7.70" height="20.35" fill="url(#pe)" stroke="none" stroke-width="0.5" />
<rect x="330.57" y="488.50" width="7.70" height="3.30" fill="url(#pe)" stroke="none" stroke-width="0.5" />
<rect x="353.30" y="490.70" width="7.70" height="1.10" fill="#f2bd90" stroke="none" stroke-width="0.5" />
<rect x="376.03" y="490.99" width="7.70" height="0.81" fill="#f2bd90" stroke="none" stroke-width="0.5" />
<line x1="277.90" y1="491.80" x2="437.00" y2="491.80" stroke="#dcdcdc" stroke-width="0.5"/>
<line x1="238.90" y1="507.10" x2="437.00" y2="507.10" stroke="#dcdcdc" stroke-width="0.5"/>
<line x1="238.90" y1="515.10" x2="437.00" y2="515.10" stroke="#dcdcdc" stroke-width="0.5"/>
<line x1="238.90" y1="507.10" x2="238.90" y2="515.10" stroke="#dcdcdc" stroke-width="0.5"/>
<line x1="277.90" y1="491.80" x2="277.90" y2="515.10" stroke="#dcdcdc" stroke-width="0.5"/>
<line x1="300.63" y1="491.80" x2="300.63" y2="515.10" stroke="#dcdcdc" stroke-width="0.5"/>
<line x1="323.36" y1="491.80" x2="323.36" y2="515.10" stroke="#dcdcdc" stroke-width="0.5"/>
<line x1="346.09" y1="491.80" x2="346.09" y2="515.10" stroke="#dcdcdc" stroke-width="0.5"/>
<line x1="368.81" y1="491.80" x2="368.81" y2="515.10" stroke="#dcdcdc" stroke-width="0.5"/>
<line x1="391.54" y1="491.80" x2="391.54" y2="515.10" stroke="#dcdcdc" stroke-width="0.5"/>
<line x1="414.27" y1="491.80" x2="414.27" y2="515.10" stroke="#dcdcdc" stroke-width="0.5"/>
<line x1="437.00" y1="491.80" x2="437.00" y2="515.10" stroke="#dcdcdc" stroke-width="0.5"/>
<text transform="translate(289.26 498.78) scale(0.84 1)" font-size="3.8" text-anchor="middle" fill="#484848" font-family="Liberation Sans, Arial, sans-serif" >KNN Model -</text>
<text transform="translate(289.26 503.68) scale(0.84 1)" font-size="3.8" text-anchor="middle" fill="#484848" font-family="Liberation Sans, Arial, sans-serif" >KNN</text>
<text transform="translate(311.99 498.78) scale(0.84 1)" font-size="3.8" text-anchor="middle" fill="#484848" font-family="Liberation Sans, Arial, sans-serif" >SVM RBF</text>
<text transform="translate(311.99 503.68) scale(0.84 1)" font-size="3.8" text-anchor="middle" fill="#484848" font-family="Liberation Sans, Arial, sans-serif" >Model - RBF</text>
<text transform="translate(334.72 496.33) scale(0.84 1)" font-size="3.8" text-anchor="middle" fill="#484848" font-family="Liberation Sans, Arial, sans-serif" >SVM Linear</text>
<text transform="translate(334.72 501.23) scale(0.84 1)" font-size="3.8" text-anchor="middle" fill="#484848" font-family="Liberation Sans, Arial, sans-serif" >Model -</text>
<text transform="translate(334.72 506.13) scale(0.84 1)" font-size="3.8" text-anchor="middle" fill="#484848" font-family="Liberation Sans, Arial, sans-serif" >SVM</text>
<text transform="translate(357.45 496.33) scale(0.84 1)" font-size="3.8" text-anchor="middle" fill="#484848" font-family="Liberation Sans, Arial, sans-serif" >Random</text>
<text transform="translate(357.45 501.23) scale(0.84 1)" font-size="3.8" text-anchor="middle" fill="#484848" font-family="Liberation Sans, Arial, sans-serif" >Forest</text>
<text transform="translate(357.45 506.13) scale(0.84 1)" font-size="3.8" text-anchor="middle" fill="#484848" font-family="Liberation Sans, Arial, sans-serif" >Model - RF</text>
<text transform="translate(380.18 498.78) scale(0.84 1)" font-size="3.8" text-anchor="middle" fill="#484848" font-family="Liberation Sans, Arial, sans-serif" >Naïve Bayes</text>
<text transform="translate(380.18 503.68) scale(0.84 1)" font-size="3.8" text-anchor="middle" fill="#484848" font-family="Liberation Sans, Arial, sans-serif" >Model - NB</text>
<text transform="translate(402.91 496.33) scale(0.84 1)" font-size="3.8" text-anchor="middle" fill="#484848" font-family="Liberation Sans, Arial, sans-serif" >Multi-layer</text>
<text transform="translate(402.91 501.23) scale(0.84 1)" font-size="3.8" text-anchor="middle" fill="#484848" font-family="Liberation Sans, Arial, sans-serif" >Perceptron</text>
<text transform="translate(402.91 506.13) scale(0.84 1)" font-size="3.8" text-anchor="middle" fill="#484848" font-family="Liberation Sans, Arial, sans-serif" >MLP</text>
<text transform="translate(425.64 496.33) scale(0.84 1)" font-size="3.8" text-anchor="middle" fill="#484848" font-family="Liberation Sans, Arial, sans-serif" >Decision</text>
<text transform="translate(425.64 501.23) scale(0.84 1)" font-size="3.8" text-anchor="middle" fill="#484848" font-family="Liberation Sans, Arial, sans-serif" >Tree Model -</text>
<text transform="translate(425.64 506.13) scale(0.84 1)" font-size="3.8" text-anchor="middle" fill="#484848" font-family="Liberation Sans, Arial, sans-serif" >DT</text>
<rect x="241.10" y="510.20" width="1.40" height="1.80" fill="#f2bd90" stroke="none" stroke-width="0.5" />
<text x="243.60" y="512.40" font-size="3.8" text-anchor="start" fill="#303030" font-family="Liberation Sans, Arial, sans-serif" textLength="33.00" lengthAdjust="spacingAndGlyphs" stroke="#303030" stroke-width="0.08" >Testing_Energy  [Joule]</text>
<text x="289.26" y="512.40" font-size="3.8" text-anchor="middle" fill="#303030" font-family="Liberation Sans, Arial, sans-serif" textLength="18.53" lengthAdjust="spacingAndGlyphs" stroke="#303030" stroke-width="0.08" >4.300528574</text>
<text x="311.99" y="512.40" font-size="3.8" text-anchor="middle" fill="#303030" font-family="Liberation Sans, Arial, sans-serif" textLength="18.53" lengthAdjust="spacingAndGlyphs" stroke="#303030" stroke-width="0.08" >1.194040489</text>
<text x="334.72" y="512.40" font-size="3.8" text-anchor="middle" fill="#303030" font-family="Liberation Sans, Arial, sans-serif" textLength="18.53" lengthAdjust="spacingAndGlyphs" stroke="#303030" stroke-width="0.08" >0.193418026</text>
<text x="357.45" y="512.40" font-size="3.8" text-anchor="middle" fill="#303030" font-family="Liberation Sans, Arial, sans-serif" textLength="18.53" lengthAdjust="spacingAndGlyphs" stroke="#303030" stroke-width="0.08" >0.064395523</text>
<text x="380.18" y="512.40" font-size="3.8" text-anchor="middle" fill="#303030" font-family="Liberation Sans, Arial, sans-serif" textLength="18.53" lengthAdjust="spacingAndGlyphs" stroke="#303030" stroke-width="0.08" >0.047400236</text>
<text x="402.91" y="512.40" font-size="3.8" text-anchor="middle" fill="#303030" font-family="Liberation Sans, Arial, sans-serif" textLength="18.53" lengthAdjust="spacingAndGlyphs" stroke="#303030" stroke-width="0.08" >0.008809853</text>
<text x="425.64" y="512.40" font-size="3.8" text-anchor="middle" fill="#303030" font-family="Liberation Sans, Arial, sans-serif" textLength="18.53" lengthAdjust="spacingAndGlyphs" stroke="#303030" stroke-width="0.08" >0.005714178</text>
<rect x="315.40" y="520.70" width="1.70" height="2.00" fill="#f2bd90" stroke="none" stroke-width="0.5" />
<text x="318.40" y="523.20" font-size="4.4" text-anchor="start" fill="#303030" font-family="Liberation Sans, Arial, sans-serif" textLength="41.50" lengthAdjust="spacingAndGlyphs" stroke="#303030" stroke-width="0.08" >Testing_Energy  [Joule]</text>
<text x="337.10" y="542.50" font-size="9.8" text-anchor="middle" fill="#1a1a1a" font-family="Liberation Serif, Times New Roman, serif" font-weight="bold" >(e)</text>
</svg></body></html>
